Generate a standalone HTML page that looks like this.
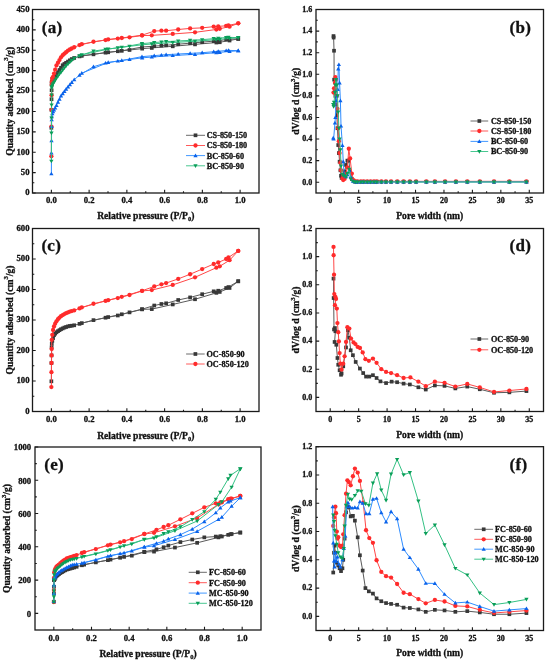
<!DOCTYPE html>
<html><head><meta charset="utf-8"><style>
html,body{margin:0;padding:0;background:#fff;}
svg{display:block;will-change:transform;}
text{font-family:"Liberation Serif", serif;font-weight:bold;fill:#111;stroke:#111;stroke-width:0.3px;}
</style></head><body>
<svg width="550" height="662" viewBox="0 0 550 662">
<rect width="550" height="662" fill="#fff"/>
<path d="M51.38,127.76L51.45,109.81L51.53,99.21L51.60,90.24L51.68,83.72L51.75,81.76L52.32,78.82L53.07,78.05L54.02,77.07L55.15,75.91L56.47,74.46L57.98,72.23L59.49,69.99L61.00,67.75L62.70,65.24L64.40,63.95L66.10,62.82L67.98,61.57L69.87,60.32L71.76,59.06L74.21,57.98L79.50,56.38L93.47,54.33L105.55,52.66L117.81,51.26L129.52,49.99L142.16,48.63L151.79,47.94L172.74,46.31L195.01,44.39L216.34,42.55L219.74,42.25L229.55,40.53L238.24,38.86L238.24,38.86L228.42,39.11L226.16,39.55L218.23,40.75L213.70,41.14L202.19,42.14L190.11,43.18L178.21,44.21L166.13,45.25L161.42,45.62L154.24,46.13L141.97,47.02L121.78,50.83L108.19,52.30L81.76,55.86" fill="none" stroke="#5a5a5a" stroke-width="1.0" stroke-linejoin="round"/>
<rect x="49.53" y="125.91" width="3.69" height="3.69" fill="#383838"/>
<rect x="49.61" y="107.97" width="3.69" height="3.69" fill="#383838"/>
<rect x="49.68" y="97.37" width="3.69" height="3.69" fill="#383838"/>
<rect x="49.76" y="88.39" width="3.69" height="3.69" fill="#383838"/>
<rect x="49.83" y="81.87" width="3.69" height="3.69" fill="#383838"/>
<rect x="49.91" y="79.91" width="3.69" height="3.69" fill="#383838"/>
<rect x="50.47" y="76.98" width="3.69" height="3.69" fill="#383838"/>
<rect x="51.23" y="76.20" width="3.69" height="3.69" fill="#383838"/>
<rect x="52.17" y="75.23" width="3.69" height="3.69" fill="#383838"/>
<rect x="53.30" y="74.06" width="3.69" height="3.69" fill="#383838"/>
<rect x="54.63" y="72.62" width="3.69" height="3.69" fill="#383838"/>
<rect x="56.14" y="70.38" width="3.69" height="3.69" fill="#383838"/>
<rect x="57.65" y="68.15" width="3.69" height="3.69" fill="#383838"/>
<rect x="59.16" y="65.91" width="3.69" height="3.69" fill="#383838"/>
<rect x="60.85" y="63.39" width="3.69" height="3.69" fill="#383838"/>
<rect x="62.55" y="62.11" width="3.69" height="3.69" fill="#383838"/>
<rect x="64.25" y="60.98" width="3.69" height="3.69" fill="#383838"/>
<rect x="66.14" y="59.73" width="3.69" height="3.69" fill="#383838"/>
<rect x="68.03" y="58.47" width="3.69" height="3.69" fill="#383838"/>
<rect x="69.91" y="57.22" width="3.69" height="3.69" fill="#383838"/>
<rect x="72.37" y="56.13" width="3.69" height="3.69" fill="#383838"/>
<rect x="77.65" y="54.54" width="3.69" height="3.69" fill="#383838"/>
<rect x="91.62" y="52.48" width="3.69" height="3.69" fill="#383838"/>
<rect x="103.70" y="50.81" width="3.69" height="3.69" fill="#383838"/>
<rect x="115.97" y="49.41" width="3.69" height="3.69" fill="#383838"/>
<rect x="127.67" y="48.15" width="3.69" height="3.69" fill="#383838"/>
<rect x="140.32" y="46.79" width="3.69" height="3.69" fill="#383838"/>
<rect x="149.94" y="46.09" width="3.69" height="3.69" fill="#383838"/>
<rect x="170.90" y="44.47" width="3.69" height="3.69" fill="#383838"/>
<rect x="193.17" y="42.54" width="3.69" height="3.69" fill="#383838"/>
<rect x="214.50" y="40.70" width="3.69" height="3.69" fill="#383838"/>
<rect x="217.89" y="40.41" width="3.69" height="3.69" fill="#383838"/>
<rect x="227.71" y="38.68" width="3.69" height="3.69" fill="#383838"/>
<rect x="236.39" y="37.02" width="3.69" height="3.69" fill="#383838"/>
<rect x="236.39" y="37.02" width="3.69" height="3.69" fill="#383838"/>
<rect x="226.58" y="37.27" width="3.69" height="3.69" fill="#383838"/>
<rect x="224.31" y="37.70" width="3.69" height="3.69" fill="#383838"/>
<rect x="216.38" y="38.91" width="3.69" height="3.69" fill="#383838"/>
<rect x="211.85" y="39.30" width="3.69" height="3.69" fill="#383838"/>
<rect x="200.34" y="40.29" width="3.69" height="3.69" fill="#383838"/>
<rect x="188.26" y="41.34" width="3.69" height="3.69" fill="#383838"/>
<rect x="176.37" y="42.37" width="3.69" height="3.69" fill="#383838"/>
<rect x="164.29" y="43.41" width="3.69" height="3.69" fill="#383838"/>
<rect x="159.57" y="43.77" width="3.69" height="3.69" fill="#383838"/>
<rect x="152.40" y="44.29" width="3.69" height="3.69" fill="#383838"/>
<rect x="140.13" y="45.17" width="3.69" height="3.69" fill="#383838"/>
<rect x="119.93" y="48.98" width="3.69" height="3.69" fill="#383838"/>
<rect x="106.34" y="50.45" width="3.69" height="3.69" fill="#383838"/>
<rect x="79.92" y="54.02" width="3.69" height="3.69" fill="#383838"/>
<path d="M51.38,156.30L51.45,126.53L51.53,109.81L51.60,95.13L51.68,84.94L51.75,81.88L52.32,78.41L53.07,76.78L54.02,73.55L55.15,69.66L56.47,65.44L57.98,62.74L59.49,60.04L61.00,57.34L62.70,55.17L64.40,53.70L66.10,52.24L67.98,50.60L69.87,49.49L71.76,48.51L74.21,47.27L79.50,45.11L93.47,41.77L105.55,40.03L117.81,38.62L129.52,37.28L142.16,35.59L151.79,35.37L172.74,33.97L195.01,32.34L216.34,29.48L219.74,28.75L229.55,26.63L238.24,23.36L238.24,23.36L228.42,25.35L226.16,25.81L218.23,26.35L213.70,26.67L202.19,27.86L190.11,28.42L178.21,29.48L166.13,30.70L161.42,30.70L154.24,31.11L141.97,35.19L121.78,37.98L108.19,39.45L81.76,44.15" fill="none" stroke="#ff4747" stroke-width="1.0" stroke-linejoin="round"/>
<circle cx="51.38" cy="156.30" r="2.15" fill="#ff2b2b"/>
<circle cx="51.45" cy="126.53" r="2.15" fill="#ff2b2b"/>
<circle cx="51.53" cy="109.81" r="2.15" fill="#ff2b2b"/>
<circle cx="51.60" cy="95.13" r="2.15" fill="#ff2b2b"/>
<circle cx="51.68" cy="84.94" r="2.15" fill="#ff2b2b"/>
<circle cx="51.75" cy="81.88" r="2.15" fill="#ff2b2b"/>
<circle cx="52.32" cy="78.41" r="2.15" fill="#ff2b2b"/>
<circle cx="53.07" cy="76.78" r="2.15" fill="#ff2b2b"/>
<circle cx="54.02" cy="73.55" r="2.15" fill="#ff2b2b"/>
<circle cx="55.15" cy="69.66" r="2.15" fill="#ff2b2b"/>
<circle cx="56.47" cy="65.44" r="2.15" fill="#ff2b2b"/>
<circle cx="57.98" cy="62.74" r="2.15" fill="#ff2b2b"/>
<circle cx="59.49" cy="60.04" r="2.15" fill="#ff2b2b"/>
<circle cx="61.00" cy="57.34" r="2.15" fill="#ff2b2b"/>
<circle cx="62.70" cy="55.17" r="2.15" fill="#ff2b2b"/>
<circle cx="64.40" cy="53.70" r="2.15" fill="#ff2b2b"/>
<circle cx="66.10" cy="52.24" r="2.15" fill="#ff2b2b"/>
<circle cx="67.98" cy="50.60" r="2.15" fill="#ff2b2b"/>
<circle cx="69.87" cy="49.49" r="2.15" fill="#ff2b2b"/>
<circle cx="71.76" cy="48.51" r="2.15" fill="#ff2b2b"/>
<circle cx="74.21" cy="47.27" r="2.15" fill="#ff2b2b"/>
<circle cx="79.50" cy="45.11" r="2.15" fill="#ff2b2b"/>
<circle cx="93.47" cy="41.77" r="2.15" fill="#ff2b2b"/>
<circle cx="105.55" cy="40.03" r="2.15" fill="#ff2b2b"/>
<circle cx="117.81" cy="38.62" r="2.15" fill="#ff2b2b"/>
<circle cx="129.52" cy="37.28" r="2.15" fill="#ff2b2b"/>
<circle cx="142.16" cy="35.59" r="2.15" fill="#ff2b2b"/>
<circle cx="151.79" cy="35.37" r="2.15" fill="#ff2b2b"/>
<circle cx="172.74" cy="33.97" r="2.15" fill="#ff2b2b"/>
<circle cx="195.01" cy="32.34" r="2.15" fill="#ff2b2b"/>
<circle cx="216.34" cy="29.48" r="2.15" fill="#ff2b2b"/>
<circle cx="219.74" cy="28.75" r="2.15" fill="#ff2b2b"/>
<circle cx="229.55" cy="26.63" r="2.15" fill="#ff2b2b"/>
<circle cx="238.24" cy="23.36" r="2.15" fill="#ff2b2b"/>
<circle cx="238.24" cy="23.36" r="2.15" fill="#ff2b2b"/>
<circle cx="228.42" cy="25.35" r="2.15" fill="#ff2b2b"/>
<circle cx="226.16" cy="25.81" r="2.15" fill="#ff2b2b"/>
<circle cx="218.23" cy="26.35" r="2.15" fill="#ff2b2b"/>
<circle cx="213.70" cy="26.67" r="2.15" fill="#ff2b2b"/>
<circle cx="202.19" cy="27.86" r="2.15" fill="#ff2b2b"/>
<circle cx="190.11" cy="28.42" r="2.15" fill="#ff2b2b"/>
<circle cx="178.21" cy="29.48" r="2.15" fill="#ff2b2b"/>
<circle cx="166.13" cy="30.70" r="2.15" fill="#ff2b2b"/>
<circle cx="161.42" cy="30.70" r="2.15" fill="#ff2b2b"/>
<circle cx="154.24" cy="31.11" r="2.15" fill="#ff2b2b"/>
<circle cx="141.97" cy="35.19" r="2.15" fill="#ff2b2b"/>
<circle cx="121.78" cy="37.98" r="2.15" fill="#ff2b2b"/>
<circle cx="108.19" cy="39.45" r="2.15" fill="#ff2b2b"/>
<circle cx="81.76" cy="44.15" r="2.15" fill="#ff2b2b"/>
<path d="M51.38,173.83L51.45,153.04L51.53,140.80L51.60,126.53L51.68,119.80L51.75,116.61L52.32,113.69L53.07,111.59L54.02,109.91L55.15,107.89L56.47,105.37L57.98,102.23L59.49,99.09L61.00,95.95L62.70,93.71L64.40,91.48L66.10,89.25L67.98,86.85L69.87,84.65L71.76,82.46L74.21,79.72L79.50,75.15L93.47,66.71L105.55,63.07L117.81,61.06L129.52,59.46L142.16,57.85L151.79,57.05L172.74,55.55L195.01,54.35L216.34,52.68L219.74,52.37L229.55,51.48L238.24,50.69L238.24,50.69L228.42,50.36L226.16,50.56L218.23,51.28L213.70,51.69L202.19,52.73L190.11,53.39L178.21,54.03L166.13,54.68L161.42,55.03L154.24,55.63L141.97,56.65L121.78,60.51L108.19,62.43L81.76,73.19" fill="none" stroke="#2e8cff" stroke-width="1.0" stroke-linejoin="round"/>
<path d="M51.38,171.68L53.53,175.37L49.22,175.37Z" fill="#0a62ea"/>
<path d="M51.45,150.89L53.60,154.58L49.30,154.58Z" fill="#0a62ea"/>
<path d="M51.53,138.65L53.68,142.34L49.37,142.34Z" fill="#0a62ea"/>
<path d="M51.60,124.38L53.75,128.07L49.45,128.07Z" fill="#0a62ea"/>
<path d="M51.68,117.65L53.83,121.34L49.52,121.34Z" fill="#0a62ea"/>
<path d="M51.75,114.46L53.91,118.15L49.60,118.15Z" fill="#0a62ea"/>
<path d="M52.32,111.53L54.47,115.22L50.17,115.22Z" fill="#0a62ea"/>
<path d="M53.07,109.44L55.23,113.13L50.92,113.13Z" fill="#0a62ea"/>
<path d="M54.02,107.76L56.17,111.45L51.86,111.45Z" fill="#0a62ea"/>
<path d="M55.15,105.74L57.30,109.43L53.00,109.43Z" fill="#0a62ea"/>
<path d="M56.47,103.22L58.62,106.91L54.32,106.91Z" fill="#0a62ea"/>
<path d="M57.98,100.08L60.13,103.77L55.83,103.77Z" fill="#0a62ea"/>
<path d="M59.49,96.94L61.64,100.63L57.34,100.63Z" fill="#0a62ea"/>
<path d="M61.00,93.80L63.15,97.49L58.85,97.49Z" fill="#0a62ea"/>
<path d="M62.70,91.56L64.85,95.25L60.55,95.25Z" fill="#0a62ea"/>
<path d="M64.40,89.33L66.55,93.02L62.25,93.02Z" fill="#0a62ea"/>
<path d="M66.10,87.09L68.25,90.78L63.94,90.78Z" fill="#0a62ea"/>
<path d="M67.98,84.70L70.14,88.39L65.83,88.39Z" fill="#0a62ea"/>
<path d="M69.87,82.50L72.03,86.19L67.72,86.19Z" fill="#0a62ea"/>
<path d="M71.76,80.31L73.91,84.00L69.61,84.00Z" fill="#0a62ea"/>
<path d="M74.21,77.57L76.37,81.26L72.06,81.26Z" fill="#0a62ea"/>
<path d="M79.50,73.00L81.65,76.69L77.35,76.69Z" fill="#0a62ea"/>
<path d="M93.47,64.56L95.62,68.25L91.31,68.25Z" fill="#0a62ea"/>
<path d="M105.55,60.91L107.70,64.60L103.39,64.60Z" fill="#0a62ea"/>
<path d="M117.81,58.90L119.97,62.59L115.66,62.59Z" fill="#0a62ea"/>
<path d="M129.52,57.31L131.67,61.00L127.36,61.00Z" fill="#0a62ea"/>
<path d="M142.16,55.70L144.32,59.39L140.01,59.39Z" fill="#0a62ea"/>
<path d="M151.79,54.90L153.94,58.59L149.64,58.59Z" fill="#0a62ea"/>
<path d="M172.74,53.40L174.89,57.09L170.59,57.09Z" fill="#0a62ea"/>
<path d="M195.01,52.19L197.17,55.88L192.86,55.88Z" fill="#0a62ea"/>
<path d="M216.34,50.52L218.49,54.21L214.19,54.21Z" fill="#0a62ea"/>
<path d="M219.74,50.22L221.89,53.91L217.59,53.91Z" fill="#0a62ea"/>
<path d="M229.55,49.32L231.71,53.01L227.40,53.01Z" fill="#0a62ea"/>
<path d="M238.24,48.53L240.39,52.22L236.08,52.22Z" fill="#0a62ea"/>
<path d="M238.24,48.53L240.39,52.22L236.08,52.22Z" fill="#0a62ea"/>
<path d="M228.42,48.20L230.57,51.89L226.27,51.89Z" fill="#0a62ea"/>
<path d="M226.16,48.41L228.31,52.10L224.00,52.10Z" fill="#0a62ea"/>
<path d="M218.23,49.13L220.38,52.82L216.08,52.82Z" fill="#0a62ea"/>
<path d="M213.70,49.54L215.85,53.23L211.55,53.23Z" fill="#0a62ea"/>
<path d="M202.19,50.58L204.34,54.27L200.03,54.27Z" fill="#0a62ea"/>
<path d="M190.11,51.23L192.26,54.92L187.95,54.92Z" fill="#0a62ea"/>
<path d="M178.21,51.88L180.37,55.57L176.06,55.57Z" fill="#0a62ea"/>
<path d="M166.13,52.53L168.29,56.22L163.98,56.22Z" fill="#0a62ea"/>
<path d="M161.42,52.88L163.57,56.57L159.26,56.57Z" fill="#0a62ea"/>
<path d="M154.24,53.47L156.40,57.16L152.09,57.16Z" fill="#0a62ea"/>
<path d="M141.97,54.49L144.13,58.18L139.82,58.18Z" fill="#0a62ea"/>
<path d="M121.78,58.36L123.93,62.05L119.63,62.05Z" fill="#0a62ea"/>
<path d="M108.19,60.28L110.34,63.97L106.04,63.97Z" fill="#0a62ea"/>
<path d="M81.76,71.04L83.92,74.73L79.61,74.73Z" fill="#0a62ea"/>
<path d="M51.38,161.19L51.45,133.06L51.53,117.97L51.60,104.92L51.68,95.13L51.75,87.79L51.75,86.65L52.32,84.94L53.07,83.73L54.02,82.22L55.15,80.41L56.47,78.29L57.98,76.07L59.49,74.15L61.00,72.24L62.70,70.08L64.40,67.93L66.10,65.77L67.98,63.98L69.87,62.19L71.76,60.40L74.21,58.26L79.50,55.79L93.47,51.07L105.55,49.39L117.81,47.81L129.52,46.32L142.16,44.80L151.79,44.00L172.74,42.50L195.01,41.30L216.34,39.63L219.74,39.32L229.55,38.43L238.24,37.64L238.24,37.64L228.42,37.31L226.16,37.51L218.23,38.23L213.70,38.65L202.19,39.69L190.11,40.34L178.21,40.98L166.13,41.63L161.42,41.98L154.24,42.58L141.97,43.60L121.78,47.30L108.19,49.03L81.76,54.86" fill="none" stroke="#34c184" stroke-width="1.0" stroke-linejoin="round"/>
<path d="M51.38,163.35L53.53,159.66L49.22,159.66Z" fill="#0a9e58"/>
<path d="M51.45,135.21L53.60,131.52L49.30,131.52Z" fill="#0a9e58"/>
<path d="M51.53,120.12L53.68,116.43L49.37,116.43Z" fill="#0a9e58"/>
<path d="M51.60,107.07L53.75,103.38L49.45,103.38Z" fill="#0a9e58"/>
<path d="M51.68,97.29L53.83,93.60L49.52,93.60Z" fill="#0a9e58"/>
<path d="M51.75,89.95L53.91,86.26L49.60,86.26Z" fill="#0a9e58"/>
<path d="M51.75,88.80L53.91,85.11L49.60,85.11Z" fill="#0a9e58"/>
<path d="M52.32,87.09L54.47,83.40L50.17,83.40Z" fill="#0a9e58"/>
<path d="M53.07,85.88L55.23,82.19L50.92,82.19Z" fill="#0a9e58"/>
<path d="M54.02,84.37L56.17,80.68L51.86,80.68Z" fill="#0a9e58"/>
<path d="M55.15,82.56L57.30,78.87L53.00,78.87Z" fill="#0a9e58"/>
<path d="M56.47,80.45L58.62,76.76L54.32,76.76Z" fill="#0a9e58"/>
<path d="M57.98,78.22L60.13,74.53L55.83,74.53Z" fill="#0a9e58"/>
<path d="M59.49,76.30L61.64,72.61L57.34,72.61Z" fill="#0a9e58"/>
<path d="M61.00,74.39L63.15,70.70L58.85,70.70Z" fill="#0a9e58"/>
<path d="M62.70,72.23L64.85,68.54L60.55,68.54Z" fill="#0a9e58"/>
<path d="M64.40,70.08L66.55,66.39L62.25,66.39Z" fill="#0a9e58"/>
<path d="M66.10,67.93L68.25,64.24L63.94,64.24Z" fill="#0a9e58"/>
<path d="M67.98,66.14L70.14,62.45L65.83,62.45Z" fill="#0a9e58"/>
<path d="M69.87,64.35L72.03,60.66L67.72,60.66Z" fill="#0a9e58"/>
<path d="M71.76,62.56L73.91,58.87L69.61,58.87Z" fill="#0a9e58"/>
<path d="M74.21,60.41L76.37,56.72L72.06,56.72Z" fill="#0a9e58"/>
<path d="M79.50,57.94L81.65,54.25L77.35,54.25Z" fill="#0a9e58"/>
<path d="M93.47,53.22L95.62,49.53L91.31,49.53Z" fill="#0a9e58"/>
<path d="M105.55,51.55L107.70,47.86L103.39,47.86Z" fill="#0a9e58"/>
<path d="M117.81,49.96L119.97,46.27L115.66,46.27Z" fill="#0a9e58"/>
<path d="M129.52,48.47L131.67,44.78L127.36,44.78Z" fill="#0a9e58"/>
<path d="M142.16,46.96L144.32,43.27L140.01,43.27Z" fill="#0a9e58"/>
<path d="M151.79,46.16L153.94,42.47L149.64,42.47Z" fill="#0a9e58"/>
<path d="M172.74,44.65L174.89,40.96L170.59,40.96Z" fill="#0a9e58"/>
<path d="M195.01,43.45L197.17,39.76L192.86,39.76Z" fill="#0a9e58"/>
<path d="M216.34,41.78L218.49,38.09L214.19,38.09Z" fill="#0a9e58"/>
<path d="M219.74,41.47L221.89,37.78L217.59,37.78Z" fill="#0a9e58"/>
<path d="M229.55,40.58L231.71,36.89L227.40,36.89Z" fill="#0a9e58"/>
<path d="M238.24,39.79L240.39,36.10L236.08,36.10Z" fill="#0a9e58"/>
<path d="M238.24,39.79L240.39,36.10L236.08,36.10Z" fill="#0a9e58"/>
<path d="M228.42,39.46L230.57,35.77L226.27,35.77Z" fill="#0a9e58"/>
<path d="M226.16,39.66L228.31,35.97L224.00,35.97Z" fill="#0a9e58"/>
<path d="M218.23,40.39L220.38,36.70L216.08,36.70Z" fill="#0a9e58"/>
<path d="M213.70,40.80L215.85,37.11L211.55,37.11Z" fill="#0a9e58"/>
<path d="M202.19,41.84L204.34,38.15L200.03,38.15Z" fill="#0a9e58"/>
<path d="M190.11,42.49L192.26,38.80L187.95,38.80Z" fill="#0a9e58"/>
<path d="M178.21,43.13L180.37,39.44L176.06,39.44Z" fill="#0a9e58"/>
<path d="M166.13,43.79L168.29,40.10L163.98,40.10Z" fill="#0a9e58"/>
<path d="M161.42,44.13L163.57,40.44L159.26,40.44Z" fill="#0a9e58"/>
<path d="M154.24,44.73L156.40,41.04L152.09,41.04Z" fill="#0a9e58"/>
<path d="M141.97,45.75L144.13,42.06L139.82,42.06Z" fill="#0a9e58"/>
<path d="M121.78,49.46L123.93,45.77L119.63,45.77Z" fill="#0a9e58"/>
<path d="M108.19,51.18L110.34,47.49L106.04,47.49Z" fill="#0a9e58"/>
<path d="M81.76,57.01L83.92,53.32L79.61,53.32Z" fill="#0a9e58"/>
<rect x="32.50" y="9.50" width="226.50" height="183.50" fill="none" stroke="#1a1a1a" stroke-width="1.3"/>
<path d="M51.38,193.00v-3.2M89.12,193.00v-3.2M126.87,193.00v-3.2M164.62,193.00v-3.2M202.37,193.00v-3.2M240.12,193.00v-3.2M70.25,193.00v-1.8M108.00,193.00v-1.8M145.75,193.00v-1.8M183.50,193.00v-1.8M221.25,193.00v-1.8M32.50,193.00h3.2M32.50,172.61h3.2M32.50,152.22h3.2M32.50,131.83h3.2M32.50,111.44h3.2M32.50,91.06h3.2M32.50,70.67h3.2M32.50,50.28h3.2M32.50,29.89h3.2M32.50,9.50h3.2M32.50,182.81h1.8M32.50,162.42h1.8M32.50,142.03h1.8M32.50,121.64h1.8M32.50,101.25h1.8M32.50,80.86h1.8M32.50,60.47h1.8M32.50,40.08h1.8M32.50,19.69h1.8" stroke="#1a1a1a" stroke-width="1.1" fill="none"/>
<text x="51.38" y="202.90" font-size="8.7" text-anchor="middle">0.0</text>
<text x="89.12" y="202.90" font-size="8.7" text-anchor="middle">0.2</text>
<text x="126.87" y="202.90" font-size="8.7" text-anchor="middle">0.4</text>
<text x="164.62" y="202.90" font-size="8.7" text-anchor="middle">0.6</text>
<text x="202.37" y="202.90" font-size="8.7" text-anchor="middle">0.8</text>
<text x="240.12" y="202.90" font-size="8.7" text-anchor="middle">1.0</text>
<text x="29.50" y="195.40" font-size="8.7" text-anchor="end">0</text>
<text x="29.50" y="175.01" font-size="8.7" text-anchor="end">50</text>
<text x="29.50" y="154.62" font-size="8.7" text-anchor="end">100</text>
<text x="29.50" y="134.23" font-size="8.7" text-anchor="end">150</text>
<text x="29.50" y="113.84" font-size="8.7" text-anchor="end">200</text>
<text x="29.50" y="93.46" font-size="8.7" text-anchor="end">250</text>
<text x="29.50" y="73.07" font-size="8.7" text-anchor="end">300</text>
<text x="29.50" y="52.68" font-size="8.7" text-anchor="end">350</text>
<text x="29.50" y="32.29" font-size="8.7" text-anchor="end">400</text>
<text x="29.50" y="11.90" font-size="8.7" text-anchor="end">450</text>
<text x="145.75" y="219.00" font-size="9.6" text-anchor="middle">Relative pressure (P/P<tspan font-size="6.5" dy="2">0</tspan><tspan dy="-2">)</tspan></text>
<text transform="translate(12.50,101.25) rotate(-90)" font-size="9.6" text-anchor="middle">Quantity adsorbed (cm<tspan font-size="6.8" dy="-4.5">3</tspan><tspan dy="4.5">/g)</tspan></text>
<text x="41.70" y="32.60" font-size="17" letter-spacing="0.3">(a)</text>
<path d="M186.00,135.30H205.00" stroke="#5a5a5a" stroke-width="0.9"/>
<rect x="193.66" y="133.46" width="3.69" height="3.69" fill="#383838"/>
<text x="206.70" y="138.20" font-size="8.2">CS-850-150</text>
<path d="M186.00,145.50H205.00" stroke="#ff4747" stroke-width="0.9"/>
<circle cx="195.50" cy="145.50" r="2.15" fill="#ff2b2b"/>
<text x="206.70" y="148.40" font-size="8.2">CS-850-180</text>
<path d="M186.00,155.60H205.00" stroke="#2e8cff" stroke-width="0.9"/>
<path d="M195.50,153.45L197.65,157.14L193.35,157.14Z" fill="#0a62ea"/>
<text x="206.70" y="158.50" font-size="8.2">BC-850-60</text>
<path d="M186.00,165.80H205.00" stroke="#34c184" stroke-width="0.9"/>
<path d="M195.50,167.95L197.65,164.26L193.35,164.26Z" fill="#0a9e58"/>
<text x="206.70" y="168.70" font-size="8.2">BC-850-90</text>
<path d="M51.38,381.31L51.45,363.00L51.53,355.38L51.60,347.45L51.75,343.89L52.32,340.84L53.07,338.10L54.02,335.22L55.15,333.66L56.47,332.29L57.98,331.15L59.49,330.17L61.00,329.21L62.70,328.40L64.40,327.59L66.10,327.00L67.98,326.38L69.87,325.99L71.76,325.71L74.21,325.30L79.50,323.86L93.47,320.14L105.55,317.70L117.81,315.49L129.52,312.38L142.16,309.32L151.79,309.12L172.74,304.44L195.01,299.26L216.34,292.86L219.74,291.94L229.55,287.98L238.24,281.26L238.24,281.26L228.42,287.06L226.16,287.98L218.23,290.72L213.70,291.33L202.19,294.20L190.11,297.43L178.21,299.99L166.13,303.32L161.42,303.99L154.24,305.51L141.97,309.22L121.78,314.28L108.19,317.06L81.76,323.10" fill="none" stroke="#5a5a5a" stroke-width="1.0" stroke-linejoin="round"/>
<rect x="49.53" y="379.46" width="3.69" height="3.69" fill="#383838"/>
<rect x="49.61" y="361.16" width="3.69" height="3.69" fill="#383838"/>
<rect x="49.68" y="353.53" width="3.69" height="3.69" fill="#383838"/>
<rect x="49.76" y="345.60" width="3.69" height="3.69" fill="#383838"/>
<rect x="49.91" y="342.05" width="3.69" height="3.69" fill="#383838"/>
<rect x="50.47" y="339.00" width="3.69" height="3.69" fill="#383838"/>
<rect x="51.23" y="336.25" width="3.69" height="3.69" fill="#383838"/>
<rect x="52.17" y="333.37" width="3.69" height="3.69" fill="#383838"/>
<rect x="53.30" y="331.81" width="3.69" height="3.69" fill="#383838"/>
<rect x="54.63" y="330.44" width="3.69" height="3.69" fill="#383838"/>
<rect x="56.14" y="329.31" width="3.69" height="3.69" fill="#383838"/>
<rect x="57.65" y="328.32" width="3.69" height="3.69" fill="#383838"/>
<rect x="59.16" y="327.37" width="3.69" height="3.69" fill="#383838"/>
<rect x="60.85" y="326.56" width="3.69" height="3.69" fill="#383838"/>
<rect x="62.55" y="325.75" width="3.69" height="3.69" fill="#383838"/>
<rect x="64.25" y="325.16" width="3.69" height="3.69" fill="#383838"/>
<rect x="66.14" y="324.53" width="3.69" height="3.69" fill="#383838"/>
<rect x="68.03" y="324.15" width="3.69" height="3.69" fill="#383838"/>
<rect x="69.91" y="323.87" width="3.69" height="3.69" fill="#383838"/>
<rect x="72.37" y="323.45" width="3.69" height="3.69" fill="#383838"/>
<rect x="77.65" y="322.02" width="3.69" height="3.69" fill="#383838"/>
<rect x="91.62" y="318.29" width="3.69" height="3.69" fill="#383838"/>
<rect x="103.70" y="315.86" width="3.69" height="3.69" fill="#383838"/>
<rect x="115.97" y="313.64" width="3.69" height="3.69" fill="#383838"/>
<rect x="127.67" y="310.53" width="3.69" height="3.69" fill="#383838"/>
<rect x="140.32" y="307.48" width="3.69" height="3.69" fill="#383838"/>
<rect x="149.94" y="307.27" width="3.69" height="3.69" fill="#383838"/>
<rect x="170.90" y="302.60" width="3.69" height="3.69" fill="#383838"/>
<rect x="193.17" y="297.41" width="3.69" height="3.69" fill="#383838"/>
<rect x="214.50" y="291.01" width="3.69" height="3.69" fill="#383838"/>
<rect x="217.89" y="290.09" width="3.69" height="3.69" fill="#383838"/>
<rect x="227.71" y="286.13" width="3.69" height="3.69" fill="#383838"/>
<rect x="236.39" y="279.42" width="3.69" height="3.69" fill="#383838"/>
<rect x="236.39" y="279.42" width="3.69" height="3.69" fill="#383838"/>
<rect x="226.58" y="285.21" width="3.69" height="3.69" fill="#383838"/>
<rect x="224.31" y="286.13" width="3.69" height="3.69" fill="#383838"/>
<rect x="216.38" y="288.88" width="3.69" height="3.69" fill="#383838"/>
<rect x="211.85" y="289.49" width="3.69" height="3.69" fill="#383838"/>
<rect x="200.34" y="292.35" width="3.69" height="3.69" fill="#383838"/>
<rect x="188.26" y="295.58" width="3.69" height="3.69" fill="#383838"/>
<rect x="176.37" y="298.15" width="3.69" height="3.69" fill="#383838"/>
<rect x="164.29" y="301.47" width="3.69" height="3.69" fill="#383838"/>
<rect x="159.57" y="302.14" width="3.69" height="3.69" fill="#383838"/>
<rect x="152.40" y="303.67" width="3.69" height="3.69" fill="#383838"/>
<rect x="140.13" y="307.37" width="3.69" height="3.69" fill="#383838"/>
<rect x="119.93" y="312.43" width="3.69" height="3.69" fill="#383838"/>
<rect x="106.34" y="315.22" width="3.69" height="3.69" fill="#383838"/>
<rect x="79.92" y="321.26" width="3.69" height="3.69" fill="#383838"/>
<path d="M51.38,387.10L51.45,372.15L51.53,363.00L51.60,355.38L51.68,348.98L51.75,339.82L52.32,334.79L53.07,330.00L54.02,326.52L55.15,323.69L56.47,321.37L57.98,319.18L59.49,317.62L61.00,316.21L62.70,315.03L64.40,314.04L66.10,313.21L67.98,312.41L69.87,311.61L71.76,311.10L74.21,310.40L79.50,308.39L93.47,303.75L105.55,300.92L117.81,298.04L129.52,294.99L142.16,290.90L151.79,290.11L172.74,284.93L195.01,277.30L216.34,267.69L219.74,266.32L229.55,260.22L238.24,250.89L238.24,250.89L228.42,257.48L226.16,259.00L218.23,262.51L213.70,264.00L202.19,269.06L190.11,274.25L178.21,278.89L166.13,283.10L161.42,284.31L154.24,286.45L141.97,290.81L121.78,296.85L108.19,300.15L81.76,307.45" fill="none" stroke="#ff4747" stroke-width="1.0" stroke-linejoin="round"/>
<circle cx="51.38" cy="387.10" r="2.15" fill="#ff2b2b"/>
<circle cx="51.45" cy="372.15" r="2.15" fill="#ff2b2b"/>
<circle cx="51.53" cy="363.00" r="2.15" fill="#ff2b2b"/>
<circle cx="51.60" cy="355.38" r="2.15" fill="#ff2b2b"/>
<circle cx="51.68" cy="348.98" r="2.15" fill="#ff2b2b"/>
<circle cx="51.75" cy="339.82" r="2.15" fill="#ff2b2b"/>
<circle cx="52.32" cy="334.79" r="2.15" fill="#ff2b2b"/>
<circle cx="53.07" cy="330.00" r="2.15" fill="#ff2b2b"/>
<circle cx="54.02" cy="326.52" r="2.15" fill="#ff2b2b"/>
<circle cx="55.15" cy="323.69" r="2.15" fill="#ff2b2b"/>
<circle cx="56.47" cy="321.37" r="2.15" fill="#ff2b2b"/>
<circle cx="57.98" cy="319.18" r="2.15" fill="#ff2b2b"/>
<circle cx="59.49" cy="317.62" r="2.15" fill="#ff2b2b"/>
<circle cx="61.00" cy="316.21" r="2.15" fill="#ff2b2b"/>
<circle cx="62.70" cy="315.03" r="2.15" fill="#ff2b2b"/>
<circle cx="64.40" cy="314.04" r="2.15" fill="#ff2b2b"/>
<circle cx="66.10" cy="313.21" r="2.15" fill="#ff2b2b"/>
<circle cx="67.98" cy="312.41" r="2.15" fill="#ff2b2b"/>
<circle cx="69.87" cy="311.61" r="2.15" fill="#ff2b2b"/>
<circle cx="71.76" cy="311.10" r="2.15" fill="#ff2b2b"/>
<circle cx="74.21" cy="310.40" r="2.15" fill="#ff2b2b"/>
<circle cx="79.50" cy="308.39" r="2.15" fill="#ff2b2b"/>
<circle cx="93.47" cy="303.75" r="2.15" fill="#ff2b2b"/>
<circle cx="105.55" cy="300.92" r="2.15" fill="#ff2b2b"/>
<circle cx="117.81" cy="298.04" r="2.15" fill="#ff2b2b"/>
<circle cx="129.52" cy="294.99" r="2.15" fill="#ff2b2b"/>
<circle cx="142.16" cy="290.90" r="2.15" fill="#ff2b2b"/>
<circle cx="151.79" cy="290.11" r="2.15" fill="#ff2b2b"/>
<circle cx="172.74" cy="284.93" r="2.15" fill="#ff2b2b"/>
<circle cx="195.01" cy="277.30" r="2.15" fill="#ff2b2b"/>
<circle cx="216.34" cy="267.69" r="2.15" fill="#ff2b2b"/>
<circle cx="219.74" cy="266.32" r="2.15" fill="#ff2b2b"/>
<circle cx="229.55" cy="260.22" r="2.15" fill="#ff2b2b"/>
<circle cx="238.24" cy="250.89" r="2.15" fill="#ff2b2b"/>
<circle cx="238.24" cy="250.89" r="2.15" fill="#ff2b2b"/>
<circle cx="228.42" cy="257.48" r="2.15" fill="#ff2b2b"/>
<circle cx="226.16" cy="259.00" r="2.15" fill="#ff2b2b"/>
<circle cx="218.23" cy="262.51" r="2.15" fill="#ff2b2b"/>
<circle cx="213.70" cy="264.00" r="2.15" fill="#ff2b2b"/>
<circle cx="202.19" cy="269.06" r="2.15" fill="#ff2b2b"/>
<circle cx="190.11" cy="274.25" r="2.15" fill="#ff2b2b"/>
<circle cx="178.21" cy="278.89" r="2.15" fill="#ff2b2b"/>
<circle cx="166.13" cy="283.10" r="2.15" fill="#ff2b2b"/>
<circle cx="161.42" cy="284.31" r="2.15" fill="#ff2b2b"/>
<circle cx="154.24" cy="286.45" r="2.15" fill="#ff2b2b"/>
<circle cx="141.97" cy="290.81" r="2.15" fill="#ff2b2b"/>
<circle cx="121.78" cy="296.85" r="2.15" fill="#ff2b2b"/>
<circle cx="108.19" cy="300.15" r="2.15" fill="#ff2b2b"/>
<circle cx="81.76" cy="307.45" r="2.15" fill="#ff2b2b"/>
<rect x="32.50" y="228.50" width="226.50" height="183.00" fill="none" stroke="#1a1a1a" stroke-width="1.3"/>
<path d="M51.38,411.50v-3.2M89.12,411.50v-3.2M126.87,411.50v-3.2M164.62,411.50v-3.2M202.37,411.50v-3.2M240.12,411.50v-3.2M70.25,411.50v-1.8M108.00,411.50v-1.8M145.75,411.50v-1.8M183.50,411.50v-1.8M221.25,411.50v-1.8M32.50,411.50h3.2M32.50,381.00h3.2M32.50,350.50h3.2M32.50,320.00h3.2M32.50,289.50h3.2M32.50,259.00h3.2M32.50,228.50h3.2M32.50,396.25h1.8M32.50,365.75h1.8M32.50,335.25h1.8M32.50,304.75h1.8M32.50,274.25h1.8M32.50,243.75h1.8" stroke="#1a1a1a" stroke-width="1.1" fill="none"/>
<text x="51.38" y="421.75" font-size="8.7" text-anchor="middle">0.0</text>
<text x="89.12" y="421.75" font-size="8.7" text-anchor="middle">0.2</text>
<text x="126.87" y="421.75" font-size="8.7" text-anchor="middle">0.4</text>
<text x="164.62" y="421.75" font-size="8.7" text-anchor="middle">0.6</text>
<text x="202.37" y="421.75" font-size="8.7" text-anchor="middle">0.8</text>
<text x="240.12" y="421.75" font-size="8.7" text-anchor="middle">1.0</text>
<text x="29.50" y="413.90" font-size="8.7" text-anchor="end">0</text>
<text x="29.50" y="383.40" font-size="8.7" text-anchor="end">100</text>
<text x="29.50" y="352.90" font-size="8.7" text-anchor="end">200</text>
<text x="29.50" y="322.40" font-size="8.7" text-anchor="end">300</text>
<text x="29.50" y="291.90" font-size="8.7" text-anchor="end">400</text>
<text x="29.50" y="261.40" font-size="8.7" text-anchor="end">500</text>
<text x="29.50" y="230.90" font-size="8.7" text-anchor="end">600</text>
<text x="145.75" y="438.50" font-size="9.6" text-anchor="middle">Relative pressure (P/P<tspan font-size="6.5" dy="2">0</tspan><tspan dy="-2">)</tspan></text>
<text transform="translate(12.50,320.00) rotate(-90)" font-size="9.6" text-anchor="middle">Quantity adsorbed (cm<tspan font-size="6.8" dy="-4.5">3</tspan><tspan dy="4.5">/g)</tspan></text>
<text x="41.40" y="251.30" font-size="17" letter-spacing="0.3">(c)</text>
<path d="M186.10,354.00H204.70" stroke="#5a5a5a" stroke-width="0.9"/>
<rect x="193.55" y="352.15" width="3.69" height="3.69" fill="#383838"/>
<text x="206.50" y="356.90" font-size="8.2">OC-850-90</text>
<path d="M186.10,364.00H204.70" stroke="#ff4747" stroke-width="0.9"/>
<circle cx="195.40" cy="364.00" r="2.15" fill="#ff2b2b"/>
<text x="206.50" y="366.90" font-size="8.2">OC-850-120</text>
<path d="M53.83,601.72L53.91,593.40L53.98,586.75L54.06,580.09L54.21,580.17L54.77,579.05L55.53,577.55L56.47,576.13L57.60,575.23L58.92,574.17L60.42,573.05L61.93,572.18L63.44,571.30L65.13,570.32L66.83,569.56L68.52,569.08L70.41,568.55L72.29,568.02L74.17,567.48L76.62,566.79L81.89,565.28L95.83,562.39L107.88,560.17L120.13,557.75L131.80,555.67L144.42,552.14L154.03,551.61L174.93,547.57L197.15,542.83L218.44,537.38L221.83,536.50L231.62,534.01L240.28,532.54L240.28,532.54L230.49,534.25L228.23,534.84L220.32,536.21L215.80,536.56L204.31,537.37L192.26,539.54L180.39,542.06L168.34,545.57L163.63,547.26L156.47,549.31L144.23,551.81L124.08,556.88L110.52,559.58L84.16,564.64" fill="none" stroke="#5a5a5a" stroke-width="1.0" stroke-linejoin="round"/>
<rect x="51.99" y="599.87" width="3.69" height="3.69" fill="#383838"/>
<rect x="52.06" y="591.55" width="3.69" height="3.69" fill="#383838"/>
<rect x="52.14" y="584.90" width="3.69" height="3.69" fill="#383838"/>
<rect x="52.21" y="578.25" width="3.69" height="3.69" fill="#383838"/>
<rect x="52.36" y="578.33" width="3.69" height="3.69" fill="#383838"/>
<rect x="52.93" y="577.21" width="3.69" height="3.69" fill="#383838"/>
<rect x="53.68" y="575.71" width="3.69" height="3.69" fill="#383838"/>
<rect x="54.62" y="574.28" width="3.69" height="3.69" fill="#383838"/>
<rect x="55.75" y="573.38" width="3.69" height="3.69" fill="#383838"/>
<rect x="57.07" y="572.33" width="3.69" height="3.69" fill="#383838"/>
<rect x="58.58" y="571.21" width="3.69" height="3.69" fill="#383838"/>
<rect x="60.09" y="570.33" width="3.69" height="3.69" fill="#383838"/>
<rect x="61.59" y="569.46" width="3.69" height="3.69" fill="#383838"/>
<rect x="63.29" y="568.48" width="3.69" height="3.69" fill="#383838"/>
<rect x="64.98" y="567.72" width="3.69" height="3.69" fill="#383838"/>
<rect x="66.68" y="567.24" width="3.69" height="3.69" fill="#383838"/>
<rect x="68.56" y="566.70" width="3.69" height="3.69" fill="#383838"/>
<rect x="70.44" y="566.17" width="3.69" height="3.69" fill="#383838"/>
<rect x="72.33" y="565.64" width="3.69" height="3.69" fill="#383838"/>
<rect x="74.78" y="564.94" width="3.69" height="3.69" fill="#383838"/>
<rect x="80.05" y="563.43" width="3.69" height="3.69" fill="#383838"/>
<rect x="93.99" y="560.55" width="3.69" height="3.69" fill="#383838"/>
<rect x="106.04" y="558.32" width="3.69" height="3.69" fill="#383838"/>
<rect x="118.28" y="555.91" width="3.69" height="3.69" fill="#383838"/>
<rect x="129.96" y="553.82" width="3.69" height="3.69" fill="#383838"/>
<rect x="142.58" y="550.30" width="3.69" height="3.69" fill="#383838"/>
<rect x="152.18" y="549.77" width="3.69" height="3.69" fill="#383838"/>
<rect x="173.09" y="545.72" width="3.69" height="3.69" fill="#383838"/>
<rect x="195.31" y="540.98" width="3.69" height="3.69" fill="#383838"/>
<rect x="216.59" y="535.54" width="3.69" height="3.69" fill="#383838"/>
<rect x="219.98" y="534.66" width="3.69" height="3.69" fill="#383838"/>
<rect x="229.77" y="532.16" width="3.69" height="3.69" fill="#383838"/>
<rect x="238.44" y="530.70" width="3.69" height="3.69" fill="#383838"/>
<rect x="238.44" y="530.70" width="3.69" height="3.69" fill="#383838"/>
<rect x="228.64" y="532.41" width="3.69" height="3.69" fill="#383838"/>
<rect x="226.38" y="533.00" width="3.69" height="3.69" fill="#383838"/>
<rect x="218.47" y="534.37" width="3.69" height="3.69" fill="#383838"/>
<rect x="213.95" y="534.71" width="3.69" height="3.69" fill="#383838"/>
<rect x="202.47" y="535.52" width="3.69" height="3.69" fill="#383838"/>
<rect x="190.41" y="537.69" width="3.69" height="3.69" fill="#383838"/>
<rect x="178.55" y="540.22" width="3.69" height="3.69" fill="#383838"/>
<rect x="166.49" y="543.73" width="3.69" height="3.69" fill="#383838"/>
<rect x="161.79" y="545.41" width="3.69" height="3.69" fill="#383838"/>
<rect x="154.63" y="547.47" width="3.69" height="3.69" fill="#383838"/>
<rect x="142.39" y="549.96" width="3.69" height="3.69" fill="#383838"/>
<rect x="122.24" y="555.04" width="3.69" height="3.69" fill="#383838"/>
<rect x="108.68" y="557.73" width="3.69" height="3.69" fill="#383838"/>
<rect x="82.31" y="562.80" width="3.69" height="3.69" fill="#383838"/>
<path d="M53.83,602.05L53.91,590.07L53.98,577.93L54.21,572.33L54.77,570.05L55.53,568.28L56.47,566.63L57.60,565.66L58.92,564.53L60.42,563.23L61.93,561.93L63.44,560.71L65.13,559.60L66.83,558.49L68.52,557.85L70.41,557.21L72.29,556.57L74.17,555.93L76.62,555.10L81.89,553.01L95.83,549.03L107.88,545.34L120.13,542.33L131.80,539.05L144.42,533.97L154.03,532.83L174.93,526.36L197.15,518.04L218.44,504.40L221.83,502.40L231.62,498.57L240.28,495.97L240.28,495.96L230.49,498.69L228.23,499.24L220.32,502.49L215.80,503.32L204.31,507.32L192.26,513.36L180.39,519.37L168.34,525.26L163.63,527.00L156.47,529.85L144.23,534.01L124.08,541.13L110.52,544.54L84.16,552.16" fill="none" stroke="#ff4747" stroke-width="1.0" stroke-linejoin="round"/>
<circle cx="53.83" cy="602.05" r="2.15" fill="#ff2b2b"/>
<circle cx="53.91" cy="590.07" r="2.15" fill="#ff2b2b"/>
<circle cx="53.98" cy="577.93" r="2.15" fill="#ff2b2b"/>
<circle cx="54.21" cy="572.33" r="2.15" fill="#ff2b2b"/>
<circle cx="54.77" cy="570.05" r="2.15" fill="#ff2b2b"/>
<circle cx="55.53" cy="568.28" r="2.15" fill="#ff2b2b"/>
<circle cx="56.47" cy="566.63" r="2.15" fill="#ff2b2b"/>
<circle cx="57.60" cy="565.66" r="2.15" fill="#ff2b2b"/>
<circle cx="58.92" cy="564.53" r="2.15" fill="#ff2b2b"/>
<circle cx="60.42" cy="563.23" r="2.15" fill="#ff2b2b"/>
<circle cx="61.93" cy="561.93" r="2.15" fill="#ff2b2b"/>
<circle cx="63.44" cy="560.71" r="2.15" fill="#ff2b2b"/>
<circle cx="65.13" cy="559.60" r="2.15" fill="#ff2b2b"/>
<circle cx="66.83" cy="558.49" r="2.15" fill="#ff2b2b"/>
<circle cx="68.52" cy="557.85" r="2.15" fill="#ff2b2b"/>
<circle cx="70.41" cy="557.21" r="2.15" fill="#ff2b2b"/>
<circle cx="72.29" cy="556.57" r="2.15" fill="#ff2b2b"/>
<circle cx="74.17" cy="555.93" r="2.15" fill="#ff2b2b"/>
<circle cx="76.62" cy="555.10" r="2.15" fill="#ff2b2b"/>
<circle cx="81.89" cy="553.01" r="2.15" fill="#ff2b2b"/>
<circle cx="95.83" cy="549.03" r="2.15" fill="#ff2b2b"/>
<circle cx="107.88" cy="545.34" r="2.15" fill="#ff2b2b"/>
<circle cx="120.13" cy="542.33" r="2.15" fill="#ff2b2b"/>
<circle cx="131.80" cy="539.05" r="2.15" fill="#ff2b2b"/>
<circle cx="144.42" cy="533.97" r="2.15" fill="#ff2b2b"/>
<circle cx="154.03" cy="532.83" r="2.15" fill="#ff2b2b"/>
<circle cx="174.93" cy="526.36" r="2.15" fill="#ff2b2b"/>
<circle cx="197.15" cy="518.04" r="2.15" fill="#ff2b2b"/>
<circle cx="218.44" cy="504.40" r="2.15" fill="#ff2b2b"/>
<circle cx="221.83" cy="502.40" r="2.15" fill="#ff2b2b"/>
<circle cx="231.62" cy="498.57" r="2.15" fill="#ff2b2b"/>
<circle cx="240.28" cy="495.97" r="2.15" fill="#ff2b2b"/>
<circle cx="240.28" cy="495.96" r="2.15" fill="#ff2b2b"/>
<circle cx="230.49" cy="498.69" r="2.15" fill="#ff2b2b"/>
<circle cx="228.23" cy="499.24" r="2.15" fill="#ff2b2b"/>
<circle cx="220.32" cy="502.49" r="2.15" fill="#ff2b2b"/>
<circle cx="215.80" cy="503.32" r="2.15" fill="#ff2b2b"/>
<circle cx="204.31" cy="507.32" r="2.15" fill="#ff2b2b"/>
<circle cx="192.26" cy="513.36" r="2.15" fill="#ff2b2b"/>
<circle cx="180.39" cy="519.37" r="2.15" fill="#ff2b2b"/>
<circle cx="168.34" cy="525.26" r="2.15" fill="#ff2b2b"/>
<circle cx="163.63" cy="527.00" r="2.15" fill="#ff2b2b"/>
<circle cx="156.47" cy="529.85" r="2.15" fill="#ff2b2b"/>
<circle cx="144.23" cy="534.01" r="2.15" fill="#ff2b2b"/>
<circle cx="124.08" cy="541.13" r="2.15" fill="#ff2b2b"/>
<circle cx="110.52" cy="544.54" r="2.15" fill="#ff2b2b"/>
<circle cx="84.16" cy="552.16" r="2.15" fill="#ff2b2b"/>
<path d="M53.83,601.39L53.91,593.40L53.98,585.08L54.06,578.43L54.21,578.57L54.77,577.53L55.53,576.14L56.47,574.74L57.60,573.64L58.92,572.37L60.42,571.06L61.93,570.18L63.44,569.31L65.13,568.33L66.83,567.43L68.52,566.63L70.41,565.75L72.29,564.92L74.17,564.57L76.62,564.13L81.89,563.16L95.83,560.00L107.88,556.32L120.13,553.76L131.80,551.02L144.42,547.10L154.03,545.82L174.93,539.50L197.15,531.35L218.44,519.47L221.83,517.21L231.62,506.23L240.28,497.76L240.28,497.64L230.49,501.08L228.23,501.90L220.32,507.87L215.80,512.80L204.31,521.65L192.26,529.11L180.39,534.67L168.34,539.00L163.63,541.11L156.47,543.32L144.23,546.82L124.08,552.89L110.52,555.59L84.16,562.61" fill="none" stroke="#2e8cff" stroke-width="1.0" stroke-linejoin="round"/>
<path d="M53.83,599.23L55.99,602.92L51.68,602.92Z" fill="#0a62ea"/>
<path d="M53.91,591.25L56.06,594.94L51.76,594.94Z" fill="#0a62ea"/>
<path d="M53.98,582.93L56.14,586.62L51.83,586.62Z" fill="#0a62ea"/>
<path d="M54.06,576.27L56.21,579.96L51.91,579.96Z" fill="#0a62ea"/>
<path d="M54.21,576.41L56.36,580.10L52.06,580.10Z" fill="#0a62ea"/>
<path d="M54.77,575.37L56.93,579.06L52.62,579.06Z" fill="#0a62ea"/>
<path d="M55.53,573.99L57.68,577.68L53.38,577.68Z" fill="#0a62ea"/>
<path d="M56.47,572.58L58.62,576.27L54.32,576.27Z" fill="#0a62ea"/>
<path d="M57.60,571.49L59.75,575.18L55.45,575.18Z" fill="#0a62ea"/>
<path d="M58.92,570.21L61.07,573.90L56.77,573.90Z" fill="#0a62ea"/>
<path d="M60.42,568.90L62.58,572.59L58.27,572.59Z" fill="#0a62ea"/>
<path d="M61.93,568.03L64.08,571.72L59.78,571.72Z" fill="#0a62ea"/>
<path d="M63.44,567.16L65.59,570.85L61.29,570.85Z" fill="#0a62ea"/>
<path d="M65.13,566.17L67.29,569.86L62.98,569.86Z" fill="#0a62ea"/>
<path d="M66.83,565.27L68.98,568.96L64.68,568.96Z" fill="#0a62ea"/>
<path d="M68.52,564.48L70.68,568.17L66.37,568.17Z" fill="#0a62ea"/>
<path d="M70.41,563.59L72.56,567.28L68.25,567.28Z" fill="#0a62ea"/>
<path d="M72.29,562.76L74.44,566.45L70.14,566.45Z" fill="#0a62ea"/>
<path d="M74.17,562.42L76.33,566.11L72.02,566.11Z" fill="#0a62ea"/>
<path d="M76.62,561.97L78.77,565.66L74.47,565.66Z" fill="#0a62ea"/>
<path d="M81.89,561.01L84.05,564.70L79.74,564.70Z" fill="#0a62ea"/>
<path d="M95.83,557.85L97.98,561.54L93.68,561.54Z" fill="#0a62ea"/>
<path d="M107.88,554.16L110.04,557.85L105.73,557.85Z" fill="#0a62ea"/>
<path d="M120.13,551.61L122.28,555.30L117.97,555.30Z" fill="#0a62ea"/>
<path d="M131.80,548.87L133.96,552.56L129.65,552.56Z" fill="#0a62ea"/>
<path d="M144.42,544.95L146.57,548.64L142.27,548.64Z" fill="#0a62ea"/>
<path d="M154.03,543.66L156.18,547.35L151.87,547.35Z" fill="#0a62ea"/>
<path d="M174.93,537.35L177.08,541.04L172.78,541.04Z" fill="#0a62ea"/>
<path d="M197.15,529.19L199.31,532.88L195.00,532.88Z" fill="#0a62ea"/>
<path d="M218.44,517.32L220.59,521.01L216.28,521.01Z" fill="#0a62ea"/>
<path d="M221.83,515.05L223.98,518.74L219.67,518.74Z" fill="#0a62ea"/>
<path d="M231.62,504.07L233.77,507.76L229.47,507.76Z" fill="#0a62ea"/>
<path d="M240.28,495.61L242.44,499.30L238.13,499.30Z" fill="#0a62ea"/>
<path d="M240.28,495.49L242.44,499.18L238.13,499.18Z" fill="#0a62ea"/>
<path d="M230.49,498.93L232.64,502.62L228.34,502.62Z" fill="#0a62ea"/>
<path d="M228.23,499.75L230.38,503.44L226.08,503.44Z" fill="#0a62ea"/>
<path d="M220.32,505.72L222.47,509.41L218.17,509.41Z" fill="#0a62ea"/>
<path d="M215.80,510.64L217.95,514.33L213.65,514.33Z" fill="#0a62ea"/>
<path d="M204.31,519.50L206.46,523.19L202.16,523.19Z" fill="#0a62ea"/>
<path d="M192.26,526.95L194.41,530.64L190.11,530.64Z" fill="#0a62ea"/>
<path d="M180.39,532.52L182.55,536.21L178.24,536.21Z" fill="#0a62ea"/>
<path d="M168.34,536.85L170.49,540.54L166.19,540.54Z" fill="#0a62ea"/>
<path d="M163.63,538.96L165.78,542.65L161.48,542.65Z" fill="#0a62ea"/>
<path d="M156.47,541.17L158.63,544.86L154.32,544.86Z" fill="#0a62ea"/>
<path d="M144.23,544.67L146.39,548.36L142.08,548.36Z" fill="#0a62ea"/>
<path d="M124.08,550.74L126.23,554.43L121.93,554.43Z" fill="#0a62ea"/>
<path d="M110.52,553.43L112.67,557.12L108.37,557.12Z" fill="#0a62ea"/>
<path d="M84.16,560.46L86.31,564.15L82.00,564.15Z" fill="#0a62ea"/>
<path d="M53.83,602.05L53.91,596.73L53.98,590.97L54.06,580.09L54.21,574.77L54.77,571.77L55.53,570.87L56.47,569.75L57.60,568.40L58.92,567.17L60.42,565.92L61.93,564.67L63.44,563.42L65.13,562.39L66.83,561.55L68.52,560.71L70.41,559.88L72.29,559.46L74.17,559.05L76.62,558.47L81.89,557.02L95.83,554.01L107.88,550.68L120.13,546.98L131.80,544.04L144.42,539.37L154.03,538.13L174.93,530.76L197.15,521.03L218.44,504.58L221.83,501.90L231.62,487.20L240.28,469.02L240.28,468.74L230.49,475.40L228.23,478.86L220.32,492.21L215.80,499.28L204.31,511.67L192.26,519.49L180.39,526.85L168.34,531.85L163.63,533.52L156.47,536.84L144.23,539.50L124.08,545.90L110.52,549.82L84.16,556.44" fill="none" stroke="#34c184" stroke-width="1.0" stroke-linejoin="round"/>
<path d="M53.83,604.20L55.99,600.51L51.68,600.51Z" fill="#0a9e58"/>
<path d="M53.91,598.88L56.06,595.19L51.76,595.19Z" fill="#0a9e58"/>
<path d="M53.98,593.12L56.14,589.43L51.83,589.43Z" fill="#0a9e58"/>
<path d="M54.06,582.24L56.21,578.55L51.91,578.55Z" fill="#0a9e58"/>
<path d="M54.21,576.92L56.36,573.23L52.06,573.23Z" fill="#0a9e58"/>
<path d="M54.77,573.93L56.93,570.24L52.62,570.24Z" fill="#0a9e58"/>
<path d="M55.53,573.02L57.68,569.33L53.38,569.33Z" fill="#0a9e58"/>
<path d="M56.47,571.90L58.62,568.21L54.32,568.21Z" fill="#0a9e58"/>
<path d="M57.60,570.55L59.75,566.86L55.45,566.86Z" fill="#0a9e58"/>
<path d="M58.92,569.32L61.07,565.63L56.77,565.63Z" fill="#0a9e58"/>
<path d="M60.42,568.07L62.58,564.38L58.27,564.38Z" fill="#0a9e58"/>
<path d="M61.93,566.82L64.08,563.13L59.78,563.13Z" fill="#0a9e58"/>
<path d="M63.44,565.58L65.59,561.89L61.29,561.89Z" fill="#0a9e58"/>
<path d="M65.13,564.55L67.29,560.86L62.98,560.86Z" fill="#0a9e58"/>
<path d="M66.83,563.70L68.98,560.01L64.68,560.01Z" fill="#0a9e58"/>
<path d="M68.52,562.86L70.68,559.17L66.37,559.17Z" fill="#0a9e58"/>
<path d="M70.41,562.03L72.56,558.34L68.25,558.34Z" fill="#0a9e58"/>
<path d="M72.29,561.61L74.44,557.92L70.14,557.92Z" fill="#0a9e58"/>
<path d="M74.17,561.20L76.33,557.51L72.02,557.51Z" fill="#0a9e58"/>
<path d="M76.62,560.63L78.77,556.94L74.47,556.94Z" fill="#0a9e58"/>
<path d="M81.89,559.17L84.05,555.48L79.74,555.48Z" fill="#0a9e58"/>
<path d="M95.83,556.16L97.98,552.47L93.68,552.47Z" fill="#0a9e58"/>
<path d="M107.88,552.83L110.04,549.14L105.73,549.14Z" fill="#0a9e58"/>
<path d="M120.13,549.14L122.28,545.45L117.97,545.45Z" fill="#0a9e58"/>
<path d="M131.80,546.19L133.96,542.50L129.65,542.50Z" fill="#0a9e58"/>
<path d="M144.42,541.52L146.57,537.83L142.27,537.83Z" fill="#0a9e58"/>
<path d="M154.03,540.29L156.18,536.60L151.87,536.60Z" fill="#0a9e58"/>
<path d="M174.93,532.92L177.08,529.23L172.78,529.23Z" fill="#0a9e58"/>
<path d="M197.15,523.18L199.31,519.49L195.00,519.49Z" fill="#0a9e58"/>
<path d="M218.44,506.74L220.59,503.05L216.28,503.05Z" fill="#0a9e58"/>
<path d="M221.83,504.05L223.98,500.36L219.67,500.36Z" fill="#0a9e58"/>
<path d="M231.62,489.35L233.77,485.66L229.47,485.66Z" fill="#0a9e58"/>
<path d="M240.28,471.17L242.44,467.48L238.13,467.48Z" fill="#0a9e58"/>
<path d="M240.28,470.89L242.44,467.20L238.13,467.20Z" fill="#0a9e58"/>
<path d="M230.49,477.55L232.64,473.86L228.34,473.86Z" fill="#0a9e58"/>
<path d="M228.23,481.02L230.38,477.33L226.08,477.33Z" fill="#0a9e58"/>
<path d="M220.32,494.36L222.47,490.67L218.17,490.67Z" fill="#0a9e58"/>
<path d="M215.80,501.43L217.95,497.74L213.65,497.74Z" fill="#0a9e58"/>
<path d="M204.31,513.82L206.46,510.13L202.16,510.13Z" fill="#0a9e58"/>
<path d="M192.26,521.64L194.41,517.95L190.11,517.95Z" fill="#0a9e58"/>
<path d="M180.39,529.01L182.55,525.32L178.24,525.32Z" fill="#0a9e58"/>
<path d="M168.34,534.00L170.49,530.31L166.19,530.31Z" fill="#0a9e58"/>
<path d="M163.63,535.67L165.78,531.98L161.48,531.98Z" fill="#0a9e58"/>
<path d="M156.47,538.99L158.63,535.30L154.32,535.30Z" fill="#0a9e58"/>
<path d="M144.23,541.65L146.39,537.96L142.08,537.96Z" fill="#0a9e58"/>
<path d="M124.08,548.06L126.23,544.37L121.93,544.37Z" fill="#0a9e58"/>
<path d="M110.52,551.97L112.67,548.28L108.37,548.28Z" fill="#0a9e58"/>
<path d="M84.16,558.59L86.31,554.90L82.00,554.90Z" fill="#0a9e58"/>
<rect x="35.00" y="447.00" width="226.00" height="183.00" fill="none" stroke="#1a1a1a" stroke-width="1.3"/>
<path d="M53.83,630.00v-3.2M91.50,630.00v-3.2M129.17,630.00v-3.2M166.83,630.00v-3.2M204.50,630.00v-3.2M242.17,630.00v-3.2M72.67,630.00v-1.8M110.33,630.00v-1.8M148.00,630.00v-1.8M185.67,630.00v-1.8M223.33,630.00v-1.8M35.00,613.36h3.2M35.00,580.09h3.2M35.00,546.82h3.2M35.00,513.55h3.2M35.00,480.27h3.2M35.00,447.00h3.2M35.00,596.73h1.8M35.00,563.45h1.8M35.00,530.18h1.8M35.00,496.91h1.8M35.00,463.64h1.8" stroke="#1a1a1a" stroke-width="1.1" fill="none"/>
<text x="53.83" y="640.55" font-size="8.7" text-anchor="middle">0.0</text>
<text x="91.50" y="640.55" font-size="8.7" text-anchor="middle">0.2</text>
<text x="129.17" y="640.55" font-size="8.7" text-anchor="middle">0.4</text>
<text x="166.83" y="640.55" font-size="8.7" text-anchor="middle">0.6</text>
<text x="204.50" y="640.55" font-size="8.7" text-anchor="middle">0.8</text>
<text x="242.17" y="640.55" font-size="8.7" text-anchor="middle">1.0</text>
<text x="31.20" y="616.66" font-size="8.7" text-anchor="end">0</text>
<text x="31.20" y="583.39" font-size="8.7" text-anchor="end">200</text>
<text x="31.20" y="550.12" font-size="8.7" text-anchor="end">400</text>
<text x="31.20" y="516.85" font-size="8.7" text-anchor="end">600</text>
<text x="31.20" y="483.57" font-size="8.7" text-anchor="end">800</text>
<text x="31.20" y="450.30" font-size="8.7" text-anchor="end">1000</text>
<text x="148.00" y="657.00" font-size="9.6" text-anchor="middle">Relative pressure (P/P<tspan font-size="6.5" dy="2">0</tspan><tspan dy="-2">)</tspan></text>
<text transform="translate(10.20,538.50) rotate(-90)" font-size="9.6" text-anchor="middle">Quantity adsorbed (cm<tspan font-size="6.8" dy="-4.5">3</tspan><tspan dy="4.5">/g)</tspan></text>
<text x="44.30" y="470.40" font-size="17" letter-spacing="0.3">(e)</text>
<path d="M188.70,572.30H206.90" stroke="#5a5a5a" stroke-width="0.9"/>
<rect x="195.96" y="570.45" width="3.69" height="3.69" fill="#383838"/>
<text x="209.10" y="575.20" font-size="8.2">FC-850-60</text>
<path d="M188.70,582.70H206.90" stroke="#ff4747" stroke-width="0.9"/>
<circle cx="197.80" cy="582.70" r="2.15" fill="#ff2b2b"/>
<text x="209.10" y="585.60" font-size="8.2">FC-850-90</text>
<path d="M188.70,593.10H206.90" stroke="#2e8cff" stroke-width="0.9"/>
<path d="M197.80,590.95L199.95,594.64L195.65,594.64Z" fill="#0a62ea"/>
<text x="209.10" y="596.00" font-size="8.2">MC-850-90</text>
<path d="M188.70,603.30H206.90" stroke="#34c184" stroke-width="0.9"/>
<path d="M197.80,605.45L199.95,601.76L195.65,601.76Z" fill="#0a9e58"/>
<text x="209.10" y="606.20" font-size="8.2">MC-850-120</text>
<path d="M333.52,36.05L333.63,37.56L334.03,50.73L334.14,79.66L334.77,90.46L335.39,95.85L336.02,104.49L336.82,115.28L337.44,128.24L338.24,145.07L338.86,153.06L339.60,161.70L340.40,170.33L341.02,175.73L341.59,177.89L342.45,176.81L343.24,175.73L344.61,171.41L346.03,164.94L347.39,160.62L348.82,160.62L350.12,171.41L351.83,178.97L355.24,181.77L357.52,181.77L360.93,181.77L363.77,181.77L367.19,181.77L370.60,181.77L374.01,181.77L376.86,181.77L381.41,181.77L385.96,181.77L391.07,181.77L397.33,181.77L403.59,181.77L409.84,181.77L416.10,181.77L426.34,181.77L434.87,181.77L445.11,181.77L455.91,181.77L467.29,181.77L479.80,181.77L494.02,181.77L509.38,181.77L526.44,181.77" fill="none" stroke="#5a5a5a" stroke-width="1.0" stroke-linejoin="round"/>
<rect x="331.67" y="34.21" width="3.69" height="3.69" fill="#383838"/>
<rect x="331.79" y="35.72" width="3.69" height="3.69" fill="#383838"/>
<rect x="332.18" y="48.89" width="3.69" height="3.69" fill="#383838"/>
<rect x="332.30" y="77.82" width="3.69" height="3.69" fill="#383838"/>
<rect x="332.92" y="88.61" width="3.69" height="3.69" fill="#383838"/>
<rect x="333.55" y="94.01" width="3.69" height="3.69" fill="#383838"/>
<rect x="334.17" y="102.64" width="3.69" height="3.69" fill="#383838"/>
<rect x="334.97" y="113.44" width="3.69" height="3.69" fill="#383838"/>
<rect x="335.60" y="126.39" width="3.69" height="3.69" fill="#383838"/>
<rect x="336.39" y="143.23" width="3.69" height="3.69" fill="#383838"/>
<rect x="337.02" y="151.22" width="3.69" height="3.69" fill="#383838"/>
<rect x="337.76" y="159.85" width="3.69" height="3.69" fill="#383838"/>
<rect x="338.55" y="168.49" width="3.69" height="3.69" fill="#383838"/>
<rect x="339.18" y="173.88" width="3.69" height="3.69" fill="#383838"/>
<rect x="339.75" y="176.04" width="3.69" height="3.69" fill="#383838"/>
<rect x="340.60" y="174.96" width="3.69" height="3.69" fill="#383838"/>
<rect x="341.40" y="173.88" width="3.69" height="3.69" fill="#383838"/>
<rect x="342.76" y="169.57" width="3.69" height="3.69" fill="#383838"/>
<rect x="344.18" y="163.09" width="3.69" height="3.69" fill="#383838"/>
<rect x="345.55" y="158.77" width="3.69" height="3.69" fill="#383838"/>
<rect x="346.97" y="158.77" width="3.69" height="3.69" fill="#383838"/>
<rect x="348.28" y="169.57" width="3.69" height="3.69" fill="#383838"/>
<rect x="349.99" y="177.12" width="3.69" height="3.69" fill="#383838"/>
<rect x="353.40" y="179.93" width="3.69" height="3.69" fill="#383838"/>
<rect x="355.67" y="179.93" width="3.69" height="3.69" fill="#383838"/>
<rect x="359.09" y="179.93" width="3.69" height="3.69" fill="#383838"/>
<rect x="361.93" y="179.93" width="3.69" height="3.69" fill="#383838"/>
<rect x="365.34" y="179.93" width="3.69" height="3.69" fill="#383838"/>
<rect x="368.75" y="179.93" width="3.69" height="3.69" fill="#383838"/>
<rect x="372.17" y="179.93" width="3.69" height="3.69" fill="#383838"/>
<rect x="375.01" y="179.93" width="3.69" height="3.69" fill="#383838"/>
<rect x="379.56" y="179.93" width="3.69" height="3.69" fill="#383838"/>
<rect x="384.11" y="179.93" width="3.69" height="3.69" fill="#383838"/>
<rect x="389.23" y="179.93" width="3.69" height="3.69" fill="#383838"/>
<rect x="395.49" y="179.93" width="3.69" height="3.69" fill="#383838"/>
<rect x="401.74" y="179.93" width="3.69" height="3.69" fill="#383838"/>
<rect x="408.00" y="179.93" width="3.69" height="3.69" fill="#383838"/>
<rect x="414.25" y="179.93" width="3.69" height="3.69" fill="#383838"/>
<rect x="424.49" y="179.93" width="3.69" height="3.69" fill="#383838"/>
<rect x="433.02" y="179.93" width="3.69" height="3.69" fill="#383838"/>
<rect x="443.26" y="179.93" width="3.69" height="3.69" fill="#383838"/>
<rect x="454.07" y="179.93" width="3.69" height="3.69" fill="#383838"/>
<rect x="465.44" y="179.93" width="3.69" height="3.69" fill="#383838"/>
<rect x="477.95" y="179.93" width="3.69" height="3.69" fill="#383838"/>
<rect x="492.17" y="179.93" width="3.69" height="3.69" fill="#383838"/>
<rect x="507.53" y="179.93" width="3.69" height="3.69" fill="#383838"/>
<rect x="524.59" y="179.93" width="3.69" height="3.69" fill="#383838"/>
<path d="M333.52,92.61L334.03,88.30L334.94,82.90L335.39,77.07L336.02,79.66L336.82,95.85L337.44,108.81L338.24,128.24L338.86,141.19L339.60,153.06L340.40,162.78L341.02,170.33L342.45,178.43L343.24,180.05L344.61,178.97L346.03,173.57L347.39,167.42L348.82,148.74L350.12,158.46L351.83,173.57L353.54,180.05L355.24,181.34L357.52,181.34L360.93,181.34L363.77,181.34L367.19,181.34L370.60,181.34L374.01,181.34L376.86,181.34L381.41,181.34L385.96,181.34L391.07,181.34L397.33,181.34L403.59,181.34L409.84,181.34L416.10,181.34L426.34,181.34L434.87,181.34L445.11,181.34L455.91,181.34L467.29,181.34L479.80,181.34L494.02,181.34L509.38,181.34L526.44,181.34" fill="none" stroke="#ff4747" stroke-width="1.0" stroke-linejoin="round"/>
<circle cx="333.52" cy="92.61" r="2.15" fill="#ff2b2b"/>
<circle cx="334.03" cy="88.30" r="2.15" fill="#ff2b2b"/>
<circle cx="334.94" cy="82.90" r="2.15" fill="#ff2b2b"/>
<circle cx="335.39" cy="77.07" r="2.15" fill="#ff2b2b"/>
<circle cx="336.02" cy="79.66" r="2.15" fill="#ff2b2b"/>
<circle cx="336.82" cy="95.85" r="2.15" fill="#ff2b2b"/>
<circle cx="337.44" cy="108.81" r="2.15" fill="#ff2b2b"/>
<circle cx="338.24" cy="128.24" r="2.15" fill="#ff2b2b"/>
<circle cx="338.86" cy="141.19" r="2.15" fill="#ff2b2b"/>
<circle cx="339.60" cy="153.06" r="2.15" fill="#ff2b2b"/>
<circle cx="340.40" cy="162.78" r="2.15" fill="#ff2b2b"/>
<circle cx="341.02" cy="170.33" r="2.15" fill="#ff2b2b"/>
<circle cx="342.45" cy="178.43" r="2.15" fill="#ff2b2b"/>
<circle cx="343.24" cy="180.05" r="2.15" fill="#ff2b2b"/>
<circle cx="344.61" cy="178.97" r="2.15" fill="#ff2b2b"/>
<circle cx="346.03" cy="173.57" r="2.15" fill="#ff2b2b"/>
<circle cx="347.39" cy="167.42" r="2.15" fill="#ff2b2b"/>
<circle cx="348.82" cy="148.74" r="2.15" fill="#ff2b2b"/>
<circle cx="350.12" cy="158.46" r="2.15" fill="#ff2b2b"/>
<circle cx="351.83" cy="173.57" r="2.15" fill="#ff2b2b"/>
<circle cx="353.54" cy="180.05" r="2.15" fill="#ff2b2b"/>
<circle cx="355.24" cy="181.34" r="2.15" fill="#ff2b2b"/>
<circle cx="357.52" cy="181.34" r="2.15" fill="#ff2b2b"/>
<circle cx="360.93" cy="181.34" r="2.15" fill="#ff2b2b"/>
<circle cx="363.77" cy="181.34" r="2.15" fill="#ff2b2b"/>
<circle cx="367.19" cy="181.34" r="2.15" fill="#ff2b2b"/>
<circle cx="370.60" cy="181.34" r="2.15" fill="#ff2b2b"/>
<circle cx="374.01" cy="181.34" r="2.15" fill="#ff2b2b"/>
<circle cx="376.86" cy="181.34" r="2.15" fill="#ff2b2b"/>
<circle cx="381.41" cy="181.34" r="2.15" fill="#ff2b2b"/>
<circle cx="385.96" cy="181.34" r="2.15" fill="#ff2b2b"/>
<circle cx="391.07" cy="181.34" r="2.15" fill="#ff2b2b"/>
<circle cx="397.33" cy="181.34" r="2.15" fill="#ff2b2b"/>
<circle cx="403.59" cy="181.34" r="2.15" fill="#ff2b2b"/>
<circle cx="409.84" cy="181.34" r="2.15" fill="#ff2b2b"/>
<circle cx="416.10" cy="181.34" r="2.15" fill="#ff2b2b"/>
<circle cx="426.34" cy="181.34" r="2.15" fill="#ff2b2b"/>
<circle cx="434.87" cy="181.34" r="2.15" fill="#ff2b2b"/>
<circle cx="445.11" cy="181.34" r="2.15" fill="#ff2b2b"/>
<circle cx="455.91" cy="181.34" r="2.15" fill="#ff2b2b"/>
<circle cx="467.29" cy="181.34" r="2.15" fill="#ff2b2b"/>
<circle cx="479.80" cy="181.34" r="2.15" fill="#ff2b2b"/>
<circle cx="494.02" cy="181.34" r="2.15" fill="#ff2b2b"/>
<circle cx="509.38" cy="181.34" r="2.15" fill="#ff2b2b"/>
<circle cx="526.44" cy="181.34" r="2.15" fill="#ff2b2b"/>
<path d="M333.23,137.95L333.63,139.03L334.94,122.84L335.39,117.44L336.02,100.71L336.82,95.85L337.73,89.38L338.24,68.87L338.86,64.55L339.60,82.90L340.40,100.71L341.02,126.08L342.45,145.51L343.24,161.70L344.15,174.65L346.03,176.81L347.39,174.65L349.33,170.33L350.69,176.81L352.97,181.13L355.24,181.88L357.52,181.88L360.93,181.88L363.77,181.88L367.19,181.88L370.60,181.88L374.01,181.88L376.86,181.88L381.41,181.88L385.96,181.88L391.07,181.88L397.33,181.88L403.59,181.88L409.84,181.88L416.10,181.88L426.34,181.88L434.87,181.88L445.11,181.88L455.91,181.88L467.29,181.88L479.80,181.88L494.02,181.88L509.38,181.88L526.44,181.88" fill="none" stroke="#2e8cff" stroke-width="1.0" stroke-linejoin="round"/>
<path d="M333.23,135.80L335.39,139.49L331.08,139.49Z" fill="#0a62ea"/>
<path d="M333.63,136.88L335.78,140.57L331.48,140.57Z" fill="#0a62ea"/>
<path d="M334.94,120.69L337.09,124.38L332.79,124.38Z" fill="#0a62ea"/>
<path d="M335.39,115.29L337.55,118.98L333.24,118.98Z" fill="#0a62ea"/>
<path d="M336.02,98.56L338.17,102.25L333.87,102.25Z" fill="#0a62ea"/>
<path d="M336.82,93.70L338.97,97.39L334.66,97.39Z" fill="#0a62ea"/>
<path d="M337.73,87.22L339.88,90.91L335.57,90.91Z" fill="#0a62ea"/>
<path d="M338.24,66.72L340.39,70.41L336.09,70.41Z" fill="#0a62ea"/>
<path d="M338.86,62.40L341.02,66.09L336.71,66.09Z" fill="#0a62ea"/>
<path d="M339.60,80.75L341.76,84.44L337.45,84.44Z" fill="#0a62ea"/>
<path d="M340.40,98.56L342.55,102.25L338.25,102.25Z" fill="#0a62ea"/>
<path d="M341.02,123.92L343.18,127.61L338.87,127.61Z" fill="#0a62ea"/>
<path d="M342.45,143.35L344.60,147.04L340.29,147.04Z" fill="#0a62ea"/>
<path d="M343.24,159.54L345.40,163.23L341.09,163.23Z" fill="#0a62ea"/>
<path d="M344.15,172.50L346.31,176.19L342.00,176.19Z" fill="#0a62ea"/>
<path d="M346.03,174.66L348.18,178.35L343.88,178.35Z" fill="#0a62ea"/>
<path d="M347.39,172.50L349.55,176.19L345.24,176.19Z" fill="#0a62ea"/>
<path d="M349.33,168.18L351.48,171.87L347.18,171.87Z" fill="#0a62ea"/>
<path d="M350.69,174.66L352.85,178.35L348.54,178.35Z" fill="#0a62ea"/>
<path d="M352.97,178.97L355.12,182.66L350.82,182.66Z" fill="#0a62ea"/>
<path d="M355.24,179.73L357.40,183.42L353.09,183.42Z" fill="#0a62ea"/>
<path d="M357.52,179.73L359.67,183.42L355.37,183.42Z" fill="#0a62ea"/>
<path d="M360.93,179.73L363.08,183.42L358.78,183.42Z" fill="#0a62ea"/>
<path d="M363.77,179.73L365.93,183.42L361.62,183.42Z" fill="#0a62ea"/>
<path d="M367.19,179.73L369.34,183.42L365.04,183.42Z" fill="#0a62ea"/>
<path d="M370.60,179.73L372.75,183.42L368.45,183.42Z" fill="#0a62ea"/>
<path d="M374.01,179.73L376.16,183.42L371.86,183.42Z" fill="#0a62ea"/>
<path d="M376.86,179.73L379.01,183.42L374.70,183.42Z" fill="#0a62ea"/>
<path d="M381.41,179.73L383.56,183.42L379.25,183.42Z" fill="#0a62ea"/>
<path d="M385.96,179.73L388.11,183.42L383.80,183.42Z" fill="#0a62ea"/>
<path d="M391.07,179.73L393.23,183.42L388.92,183.42Z" fill="#0a62ea"/>
<path d="M397.33,179.73L399.48,183.42L395.18,183.42Z" fill="#0a62ea"/>
<path d="M403.59,179.73L405.74,183.42L401.44,183.42Z" fill="#0a62ea"/>
<path d="M409.84,179.73L412.00,183.42L407.69,183.42Z" fill="#0a62ea"/>
<path d="M416.10,179.73L418.25,183.42L413.95,183.42Z" fill="#0a62ea"/>
<path d="M426.34,179.73L428.49,183.42L424.19,183.42Z" fill="#0a62ea"/>
<path d="M434.87,179.73L437.02,183.42L432.72,183.42Z" fill="#0a62ea"/>
<path d="M445.11,179.73L447.26,183.42L442.95,183.42Z" fill="#0a62ea"/>
<path d="M455.91,179.73L458.06,183.42L453.76,183.42Z" fill="#0a62ea"/>
<path d="M467.29,179.73L469.44,183.42L465.14,183.42Z" fill="#0a62ea"/>
<path d="M479.80,179.73L481.95,183.42L477.65,183.42Z" fill="#0a62ea"/>
<path d="M494.02,179.73L496.17,183.42L491.87,183.42Z" fill="#0a62ea"/>
<path d="M509.38,179.73L511.53,183.42L507.22,183.42Z" fill="#0a62ea"/>
<path d="M526.44,179.73L528.59,183.42L524.28,183.42Z" fill="#0a62ea"/>
<path d="M333.23,104.49L333.63,106.65L334.03,102.33L334.94,92.61L335.39,85.06L336.02,79.66L336.82,85.06L337.44,95.85L338.24,112.04L338.86,128.24L339.60,139.03L340.40,149.82L341.02,166.01L342.45,174.65L343.87,175.73L346.03,176.81L347.39,173.57L349.33,169.25L350.69,178.97L352.97,181.34L355.24,181.99L357.52,181.99L360.93,181.99L363.77,181.99L367.19,181.99L370.60,181.99L374.01,181.99L376.86,181.99L381.41,181.99L385.96,181.99L391.07,181.99L397.33,181.99L403.59,181.99L409.84,181.99L416.10,181.99L426.34,181.99L434.87,181.99L445.11,181.99L455.91,181.99L467.29,181.99L479.80,181.99L494.02,181.99L509.38,181.99L526.44,181.99" fill="none" stroke="#34c184" stroke-width="1.0" stroke-linejoin="round"/>
<path d="M333.23,106.64L335.39,102.95L331.08,102.95Z" fill="#0a9e58"/>
<path d="M333.63,108.80L335.78,105.11L331.48,105.11Z" fill="#0a9e58"/>
<path d="M334.03,104.48L336.18,100.79L331.88,100.79Z" fill="#0a9e58"/>
<path d="M334.94,94.77L337.09,91.08L332.79,91.08Z" fill="#0a9e58"/>
<path d="M335.39,87.21L337.55,83.52L333.24,83.52Z" fill="#0a9e58"/>
<path d="M336.02,81.81L338.17,78.12L333.87,78.12Z" fill="#0a9e58"/>
<path d="M336.82,87.21L338.97,83.52L334.66,83.52Z" fill="#0a9e58"/>
<path d="M337.44,98.01L339.59,94.32L335.29,94.32Z" fill="#0a9e58"/>
<path d="M338.24,114.20L340.39,110.51L336.09,110.51Z" fill="#0a9e58"/>
<path d="M338.86,130.39L341.02,126.70L336.71,126.70Z" fill="#0a9e58"/>
<path d="M339.60,141.18L341.76,137.49L337.45,137.49Z" fill="#0a9e58"/>
<path d="M340.40,151.98L342.55,148.29L338.25,148.29Z" fill="#0a9e58"/>
<path d="M341.02,168.17L343.18,164.48L338.87,164.48Z" fill="#0a9e58"/>
<path d="M342.45,176.80L344.60,173.11L340.29,173.11Z" fill="#0a9e58"/>
<path d="M343.87,177.88L346.02,174.19L341.72,174.19Z" fill="#0a9e58"/>
<path d="M346.03,178.96L348.18,175.27L343.88,175.27Z" fill="#0a9e58"/>
<path d="M347.39,175.72L349.55,172.03L345.24,172.03Z" fill="#0a9e58"/>
<path d="M349.33,171.41L351.48,167.72L347.18,167.72Z" fill="#0a9e58"/>
<path d="M350.69,181.12L352.85,177.43L348.54,177.43Z" fill="#0a9e58"/>
<path d="M352.97,183.49L355.12,179.80L350.82,179.80Z" fill="#0a9e58"/>
<path d="M355.24,184.14L357.40,180.45L353.09,180.45Z" fill="#0a9e58"/>
<path d="M357.52,184.14L359.67,180.45L355.37,180.45Z" fill="#0a9e58"/>
<path d="M360.93,184.14L363.08,180.45L358.78,180.45Z" fill="#0a9e58"/>
<path d="M363.77,184.14L365.93,180.45L361.62,180.45Z" fill="#0a9e58"/>
<path d="M367.19,184.14L369.34,180.45L365.04,180.45Z" fill="#0a9e58"/>
<path d="M370.60,184.14L372.75,180.45L368.45,180.45Z" fill="#0a9e58"/>
<path d="M374.01,184.14L376.16,180.45L371.86,180.45Z" fill="#0a9e58"/>
<path d="M376.86,184.14L379.01,180.45L374.70,180.45Z" fill="#0a9e58"/>
<path d="M381.41,184.14L383.56,180.45L379.25,180.45Z" fill="#0a9e58"/>
<path d="M385.96,184.14L388.11,180.45L383.80,180.45Z" fill="#0a9e58"/>
<path d="M391.07,184.14L393.23,180.45L388.92,180.45Z" fill="#0a9e58"/>
<path d="M397.33,184.14L399.48,180.45L395.18,180.45Z" fill="#0a9e58"/>
<path d="M403.59,184.14L405.74,180.45L401.44,180.45Z" fill="#0a9e58"/>
<path d="M409.84,184.14L412.00,180.45L407.69,180.45Z" fill="#0a9e58"/>
<path d="M416.10,184.14L418.25,180.45L413.95,180.45Z" fill="#0a9e58"/>
<path d="M426.34,184.14L428.49,180.45L424.19,180.45Z" fill="#0a9e58"/>
<path d="M434.87,184.14L437.02,180.45L432.72,180.45Z" fill="#0a9e58"/>
<path d="M445.11,184.14L447.26,180.45L442.95,180.45Z" fill="#0a9e58"/>
<path d="M455.91,184.14L458.06,180.45L453.76,180.45Z" fill="#0a9e58"/>
<path d="M467.29,184.14L469.44,180.45L465.14,180.45Z" fill="#0a9e58"/>
<path d="M479.80,184.14L481.95,180.45L477.65,180.45Z" fill="#0a9e58"/>
<path d="M494.02,184.14L496.17,180.45L491.87,180.45Z" fill="#0a9e58"/>
<path d="M509.38,184.14L511.53,180.45L507.22,180.45Z" fill="#0a9e58"/>
<path d="M526.44,184.14L528.59,180.45L524.28,180.45Z" fill="#0a9e58"/>
<rect x="316.00" y="9.50" width="227.50" height="183.50" fill="none" stroke="#1a1a1a" stroke-width="1.3"/>
<path d="M330.22,193.00v-3.2M358.66,193.00v-3.2M387.09,193.00v-3.2M415.53,193.00v-3.2M443.97,193.00v-3.2M472.41,193.00v-3.2M500.84,193.00v-3.2M529.28,193.00v-3.2M344.44,193.00v-1.8M372.88,193.00v-1.8M401.31,193.00v-1.8M429.75,193.00v-1.8M458.19,193.00v-1.8M486.62,193.00v-1.8M515.06,193.00v-1.8M316.00,182.21h3.2M316.00,160.62h3.2M316.00,139.03h3.2M316.00,117.44h3.2M316.00,95.85h3.2M316.00,74.26h3.2M316.00,52.68h3.2M316.00,31.09h3.2M316.00,9.50h3.2M316.00,171.41h1.8M316.00,149.82h1.8M316.00,128.24h1.8M316.00,106.65h1.8M316.00,85.06h1.8M316.00,63.47h1.8M316.00,41.88h1.8M316.00,20.29h1.8" stroke="#1a1a1a" stroke-width="1.1" fill="none"/>
<text x="330.22" y="203.00" font-size="8.0" text-anchor="middle">0</text>
<text x="358.66" y="203.00" font-size="8.0" text-anchor="middle">5</text>
<text x="387.09" y="203.00" font-size="8.0" text-anchor="middle">10</text>
<text x="415.53" y="203.00" font-size="8.0" text-anchor="middle">15</text>
<text x="443.97" y="203.00" font-size="8.0" text-anchor="middle">20</text>
<text x="472.41" y="203.00" font-size="8.0" text-anchor="middle">25</text>
<text x="500.84" y="203.00" font-size="8.0" text-anchor="middle">30</text>
<text x="529.28" y="203.00" font-size="8.0" text-anchor="middle">35</text>
<text x="312.20" y="184.51" font-size="8.0" text-anchor="end">0.0</text>
<text x="312.20" y="162.92" font-size="8.0" text-anchor="end">0.2</text>
<text x="312.20" y="141.33" font-size="8.0" text-anchor="end">0.4</text>
<text x="312.20" y="119.74" font-size="8.0" text-anchor="end">0.6</text>
<text x="312.20" y="98.15" font-size="8.0" text-anchor="end">0.8</text>
<text x="312.20" y="76.56" font-size="8.0" text-anchor="end">1.0</text>
<text x="312.20" y="54.98" font-size="8.0" text-anchor="end">1.2</text>
<text x="312.20" y="33.39" font-size="8.0" text-anchor="end">1.4</text>
<text x="312.20" y="11.80" font-size="8.0" text-anchor="end">1.6</text>
<text x="429.75" y="219.00" font-size="9.6" text-anchor="middle">Pore width (nm)</text>
<text transform="translate(299.00,101.25) rotate(-90)" font-size="9.6" text-anchor="middle">dV/log d (cm<tspan font-size="6.8" dy="-4.5">3</tspan><tspan dy="4.5">/g)</tspan></text>
<text x="509.50" y="32.70" font-size="17" letter-spacing="0.3">(b)</text>
<path d="M470.50,121.00H488.20" stroke="#5a5a5a" stroke-width="0.9"/>
<rect x="477.50" y="119.16" width="3.69" height="3.69" fill="#383838"/>
<text x="490.90" y="123.90" font-size="8.2">CS-850-150</text>
<path d="M470.50,131.00H488.20" stroke="#ff4747" stroke-width="0.9"/>
<circle cx="479.35" cy="131.00" r="2.15" fill="#ff2b2b"/>
<text x="490.90" y="133.90" font-size="8.2">CS-850-180</text>
<path d="M470.50,141.40H488.20" stroke="#2e8cff" stroke-width="0.9"/>
<path d="M479.35,139.25L481.50,142.94L477.20,142.94Z" fill="#0a62ea"/>
<text x="490.90" y="144.30" font-size="8.2">BC-850-60</text>
<path d="M470.50,151.50H488.20" stroke="#34c184" stroke-width="0.9"/>
<path d="M479.35,153.65L481.50,149.96L477.20,149.96Z" fill="#0a9e58"/>
<text x="490.90" y="154.40" font-size="8.2">BC-850-90</text>
<path d="M333.52,278.61L333.63,298.04L334.03,329.43L334.94,328.02L335.39,331.26L334.60,341.96L336.30,344.78L337.44,358.01L338.24,364.76L339.60,370.25L341.02,374.76L341.59,373.49L343.24,366.31L346.03,347.45L347.91,330.28L349.33,337.74L350.69,350.27L352.91,355.19L355.70,361.95L359.91,368.57L363.21,373.07L366.05,376.59L369.29,376.59L372.93,375.18L376.57,378.00L380.44,381.38L386.07,383.06L391.64,381.66L397.10,382.22L403.59,383.63L409.84,384.47L418.38,387.29L425.77,389.54L434.87,385.46L444.54,385.88L455.34,388.41L467.29,386.58L479.80,389.26L494.02,392.78L509.38,392.36L526.44,391.09" fill="none" stroke="#5a5a5a" stroke-width="1.0" stroke-linejoin="round"/>
<rect x="331.67" y="276.77" width="3.69" height="3.69" fill="#383838"/>
<rect x="331.79" y="296.19" width="3.69" height="3.69" fill="#383838"/>
<rect x="332.18" y="327.59" width="3.69" height="3.69" fill="#383838"/>
<rect x="333.09" y="326.18" width="3.69" height="3.69" fill="#383838"/>
<rect x="333.55" y="329.42" width="3.69" height="3.69" fill="#383838"/>
<rect x="332.75" y="340.11" width="3.69" height="3.69" fill="#383838"/>
<rect x="334.46" y="342.93" width="3.69" height="3.69" fill="#383838"/>
<rect x="335.60" y="356.16" width="3.69" height="3.69" fill="#383838"/>
<rect x="336.39" y="362.92" width="3.69" height="3.69" fill="#383838"/>
<rect x="337.76" y="368.41" width="3.69" height="3.69" fill="#383838"/>
<rect x="339.18" y="372.91" width="3.69" height="3.69" fill="#383838"/>
<rect x="339.75" y="371.65" width="3.69" height="3.69" fill="#383838"/>
<rect x="341.40" y="364.47" width="3.69" height="3.69" fill="#383838"/>
<rect x="344.18" y="345.60" width="3.69" height="3.69" fill="#383838"/>
<rect x="346.06" y="328.43" width="3.69" height="3.69" fill="#383838"/>
<rect x="347.48" y="335.89" width="3.69" height="3.69" fill="#383838"/>
<rect x="348.85" y="348.42" width="3.69" height="3.69" fill="#383838"/>
<rect x="351.07" y="353.35" width="3.69" height="3.69" fill="#383838"/>
<rect x="353.85" y="360.10" width="3.69" height="3.69" fill="#383838"/>
<rect x="358.06" y="366.72" width="3.69" height="3.69" fill="#383838"/>
<rect x="361.36" y="371.22" width="3.69" height="3.69" fill="#383838"/>
<rect x="364.20" y="374.74" width="3.69" height="3.69" fill="#383838"/>
<rect x="367.45" y="374.74" width="3.69" height="3.69" fill="#383838"/>
<rect x="371.09" y="373.34" width="3.69" height="3.69" fill="#383838"/>
<rect x="374.73" y="376.15" width="3.69" height="3.69" fill="#383838"/>
<rect x="378.59" y="379.53" width="3.69" height="3.69" fill="#383838"/>
<rect x="384.22" y="381.22" width="3.69" height="3.69" fill="#383838"/>
<rect x="389.80" y="379.81" width="3.69" height="3.69" fill="#383838"/>
<rect x="395.26" y="380.38" width="3.69" height="3.69" fill="#383838"/>
<rect x="401.74" y="381.78" width="3.69" height="3.69" fill="#383838"/>
<rect x="408.00" y="382.63" width="3.69" height="3.69" fill="#383838"/>
<rect x="416.53" y="385.44" width="3.69" height="3.69" fill="#383838"/>
<rect x="423.92" y="387.69" width="3.69" height="3.69" fill="#383838"/>
<rect x="433.02" y="383.61" width="3.69" height="3.69" fill="#383838"/>
<rect x="442.69" y="384.03" width="3.69" height="3.69" fill="#383838"/>
<rect x="453.50" y="386.57" width="3.69" height="3.69" fill="#383838"/>
<rect x="465.44" y="384.74" width="3.69" height="3.69" fill="#383838"/>
<rect x="477.95" y="387.41" width="3.69" height="3.69" fill="#383838"/>
<rect x="492.17" y="390.93" width="3.69" height="3.69" fill="#383838"/>
<rect x="507.53" y="390.51" width="3.69" height="3.69" fill="#383838"/>
<rect x="524.59" y="389.24" width="3.69" height="3.69" fill="#383838"/>
<path d="M333.52,246.94L333.63,255.25L334.03,274.67L334.31,294.10L335.39,296.91L336.02,298.88L334.94,305.22L336.82,308.60L337.44,323.10L338.24,332.25L338.86,341.40L339.60,353.08L340.40,363.64L341.59,369.69L343.24,363.64L344.61,356.32L346.03,341.96L347.39,327.18L349.33,328.59L351.03,338.58L353.54,342.38L355.41,344.07L357.69,346.89L359.96,348.01L362.69,352.38L365.42,359.13L368.84,360.82L372.93,358.57L376.57,362.79L381.29,369.13L386.07,371.94L391.07,373.07L397.10,375.18L403.59,378.00L410.41,377.43L418.38,381.66L425.77,386.16L434.87,381.66L444.54,382.78L455.34,386.58L467.29,383.91L479.80,387.43L494.02,391.93L509.38,390.53L526.44,388.98" fill="none" stroke="#ff4747" stroke-width="1.0" stroke-linejoin="round"/>
<circle cx="333.52" cy="246.94" r="2.15" fill="#ff2b2b"/>
<circle cx="333.63" cy="255.25" r="2.15" fill="#ff2b2b"/>
<circle cx="334.03" cy="274.67" r="2.15" fill="#ff2b2b"/>
<circle cx="334.31" cy="294.10" r="2.15" fill="#ff2b2b"/>
<circle cx="335.39" cy="296.91" r="2.15" fill="#ff2b2b"/>
<circle cx="336.02" cy="298.88" r="2.15" fill="#ff2b2b"/>
<circle cx="334.94" cy="305.22" r="2.15" fill="#ff2b2b"/>
<circle cx="336.82" cy="308.60" r="2.15" fill="#ff2b2b"/>
<circle cx="337.44" cy="323.10" r="2.15" fill="#ff2b2b"/>
<circle cx="338.24" cy="332.25" r="2.15" fill="#ff2b2b"/>
<circle cx="338.86" cy="341.40" r="2.15" fill="#ff2b2b"/>
<circle cx="339.60" cy="353.08" r="2.15" fill="#ff2b2b"/>
<circle cx="340.40" cy="363.64" r="2.15" fill="#ff2b2b"/>
<circle cx="341.59" cy="369.69" r="2.15" fill="#ff2b2b"/>
<circle cx="343.24" cy="363.64" r="2.15" fill="#ff2b2b"/>
<circle cx="344.61" cy="356.32" r="2.15" fill="#ff2b2b"/>
<circle cx="346.03" cy="341.96" r="2.15" fill="#ff2b2b"/>
<circle cx="347.39" cy="327.18" r="2.15" fill="#ff2b2b"/>
<circle cx="349.33" cy="328.59" r="2.15" fill="#ff2b2b"/>
<circle cx="351.03" cy="338.58" r="2.15" fill="#ff2b2b"/>
<circle cx="353.54" cy="342.38" r="2.15" fill="#ff2b2b"/>
<circle cx="355.41" cy="344.07" r="2.15" fill="#ff2b2b"/>
<circle cx="357.69" cy="346.89" r="2.15" fill="#ff2b2b"/>
<circle cx="359.96" cy="348.01" r="2.15" fill="#ff2b2b"/>
<circle cx="362.69" cy="352.38" r="2.15" fill="#ff2b2b"/>
<circle cx="365.42" cy="359.13" r="2.15" fill="#ff2b2b"/>
<circle cx="368.84" cy="360.82" r="2.15" fill="#ff2b2b"/>
<circle cx="372.93" cy="358.57" r="2.15" fill="#ff2b2b"/>
<circle cx="376.57" cy="362.79" r="2.15" fill="#ff2b2b"/>
<circle cx="381.29" cy="369.13" r="2.15" fill="#ff2b2b"/>
<circle cx="386.07" cy="371.94" r="2.15" fill="#ff2b2b"/>
<circle cx="391.07" cy="373.07" r="2.15" fill="#ff2b2b"/>
<circle cx="397.10" cy="375.18" r="2.15" fill="#ff2b2b"/>
<circle cx="403.59" cy="378.00" r="2.15" fill="#ff2b2b"/>
<circle cx="410.41" cy="377.43" r="2.15" fill="#ff2b2b"/>
<circle cx="418.38" cy="381.66" r="2.15" fill="#ff2b2b"/>
<circle cx="425.77" cy="386.16" r="2.15" fill="#ff2b2b"/>
<circle cx="434.87" cy="381.66" r="2.15" fill="#ff2b2b"/>
<circle cx="444.54" cy="382.78" r="2.15" fill="#ff2b2b"/>
<circle cx="455.34" cy="386.58" r="2.15" fill="#ff2b2b"/>
<circle cx="467.29" cy="383.91" r="2.15" fill="#ff2b2b"/>
<circle cx="479.80" cy="387.43" r="2.15" fill="#ff2b2b"/>
<circle cx="494.02" cy="391.93" r="2.15" fill="#ff2b2b"/>
<circle cx="509.38" cy="390.53" r="2.15" fill="#ff2b2b"/>
<circle cx="526.44" cy="388.98" r="2.15" fill="#ff2b2b"/>
<rect x="316.00" y="228.50" width="227.50" height="183.00" fill="none" stroke="#1a1a1a" stroke-width="1.3"/>
<path d="M330.22,411.50v-3.2M358.66,411.50v-3.2M387.09,411.50v-3.2M415.53,411.50v-3.2M443.97,411.50v-3.2M472.41,411.50v-3.2M500.84,411.50v-3.2M529.28,411.50v-3.2M344.44,411.50v-1.8M372.88,411.50v-1.8M401.31,411.50v-1.8M429.75,411.50v-1.8M458.19,411.50v-1.8M486.62,411.50v-1.8M515.06,411.50v-1.8M316.00,397.42h3.2M316.00,369.27h3.2M316.00,341.12h3.2M316.00,312.96h3.2M316.00,284.81h3.2M316.00,256.65h3.2M316.00,228.50h3.2M316.00,383.35h1.8M316.00,355.19h1.8M316.00,327.04h1.8M316.00,298.88h1.8M316.00,270.73h1.8M316.00,242.58h1.8" stroke="#1a1a1a" stroke-width="1.1" fill="none"/>
<text x="330.22" y="421.50" font-size="8.0" text-anchor="middle">0</text>
<text x="358.66" y="421.50" font-size="8.0" text-anchor="middle">5</text>
<text x="387.09" y="421.50" font-size="8.0" text-anchor="middle">10</text>
<text x="415.53" y="421.50" font-size="8.0" text-anchor="middle">15</text>
<text x="443.97" y="421.50" font-size="8.0" text-anchor="middle">20</text>
<text x="472.41" y="421.50" font-size="8.0" text-anchor="middle">25</text>
<text x="500.84" y="421.50" font-size="8.0" text-anchor="middle">30</text>
<text x="529.28" y="421.50" font-size="8.0" text-anchor="middle">35</text>
<text x="312.20" y="399.72" font-size="8.0" text-anchor="end">0.0</text>
<text x="312.20" y="371.57" font-size="8.0" text-anchor="end">0.2</text>
<text x="312.20" y="343.42" font-size="8.0" text-anchor="end">0.4</text>
<text x="312.20" y="315.26" font-size="8.0" text-anchor="end">0.6</text>
<text x="312.20" y="287.11" font-size="8.0" text-anchor="end">0.8</text>
<text x="312.20" y="258.95" font-size="8.0" text-anchor="end">1.0</text>
<text x="312.20" y="230.80" font-size="8.0" text-anchor="end">1.2</text>
<text x="429.75" y="438.00" font-size="9.6" text-anchor="middle">Pore width (nm)</text>
<text transform="translate(299.00,320.00) rotate(-90)" font-size="9.6" text-anchor="middle">dV/log d (cm<tspan font-size="6.8" dy="-4.5">3</tspan><tspan dy="4.5">/g)</tspan></text>
<text x="509.50" y="251.10" font-size="17" letter-spacing="0.3">(d)</text>
<path d="M470.50,339.00H488.20" stroke="#5a5a5a" stroke-width="0.9"/>
<rect x="477.50" y="337.15" width="3.69" height="3.69" fill="#383838"/>
<text x="490.90" y="341.90" font-size="8.2">OC-850-90</text>
<path d="M470.50,349.80H488.20" stroke="#ff4747" stroke-width="0.9"/>
<circle cx="479.35" cy="349.80" r="2.15" fill="#ff2b2b"/>
<text x="490.90" y="352.70" font-size="8.2">OC-850-120</text>
<path d="M333.23,572.53L334.03,552.74L334.60,545.67L335.39,552.74L336.82,562.64L338.24,565.46L339.60,568.29L341.02,571.12L342.45,568.29L343.24,559.81L344.61,538.60L346.03,512.30L347.39,506.08L348.82,507.50L350.69,516.40L352.91,515.84L354.90,520.64L357.69,537.33L359.91,555.28L362.69,570.55L365.42,588.08L368.84,591.34L372.93,593.60L376.57,598.41L381.29,601.23L386.07,603.07L391.07,603.92L397.10,604.77L403.59,607.60L409.84,608.02L418.38,609.43L425.77,611.84L434.87,609.86L444.54,610.42L455.34,611.84L467.29,611.13L479.80,612.40L494.02,614.24L509.38,614.24L526.44,613.11" fill="none" stroke="#5a5a5a" stroke-width="1.0" stroke-linejoin="round"/>
<rect x="331.39" y="570.69" width="3.69" height="3.69" fill="#383838"/>
<rect x="332.18" y="550.89" width="3.69" height="3.69" fill="#383838"/>
<rect x="332.75" y="543.82" width="3.69" height="3.69" fill="#383838"/>
<rect x="333.55" y="550.89" width="3.69" height="3.69" fill="#383838"/>
<rect x="334.97" y="560.79" width="3.69" height="3.69" fill="#383838"/>
<rect x="336.39" y="563.62" width="3.69" height="3.69" fill="#383838"/>
<rect x="337.76" y="566.45" width="3.69" height="3.69" fill="#383838"/>
<rect x="339.18" y="569.27" width="3.69" height="3.69" fill="#383838"/>
<rect x="340.60" y="566.45" width="3.69" height="3.69" fill="#383838"/>
<rect x="341.40" y="557.96" width="3.69" height="3.69" fill="#383838"/>
<rect x="342.76" y="536.75" width="3.69" height="3.69" fill="#383838"/>
<rect x="344.18" y="510.46" width="3.69" height="3.69" fill="#383838"/>
<rect x="345.55" y="504.24" width="3.69" height="3.69" fill="#383838"/>
<rect x="346.97" y="505.65" width="3.69" height="3.69" fill="#383838"/>
<rect x="348.85" y="514.56" width="3.69" height="3.69" fill="#383838"/>
<rect x="351.07" y="513.99" width="3.69" height="3.69" fill="#383838"/>
<rect x="353.06" y="518.80" width="3.69" height="3.69" fill="#383838"/>
<rect x="355.84" y="535.48" width="3.69" height="3.69" fill="#383838"/>
<rect x="358.06" y="553.44" width="3.69" height="3.69" fill="#383838"/>
<rect x="360.85" y="568.71" width="3.69" height="3.69" fill="#383838"/>
<rect x="363.58" y="586.24" width="3.69" height="3.69" fill="#383838"/>
<rect x="366.99" y="589.49" width="3.69" height="3.69" fill="#383838"/>
<rect x="371.09" y="591.75" width="3.69" height="3.69" fill="#383838"/>
<rect x="374.73" y="596.56" width="3.69" height="3.69" fill="#383838"/>
<rect x="379.45" y="599.39" width="3.69" height="3.69" fill="#383838"/>
<rect x="384.22" y="601.23" width="3.69" height="3.69" fill="#383838"/>
<rect x="389.23" y="602.07" width="3.69" height="3.69" fill="#383838"/>
<rect x="395.26" y="602.92" width="3.69" height="3.69" fill="#383838"/>
<rect x="401.74" y="605.75" width="3.69" height="3.69" fill="#383838"/>
<rect x="408.00" y="606.17" width="3.69" height="3.69" fill="#383838"/>
<rect x="416.53" y="607.59" width="3.69" height="3.69" fill="#383838"/>
<rect x="423.92" y="609.99" width="3.69" height="3.69" fill="#383838"/>
<rect x="433.02" y="608.01" width="3.69" height="3.69" fill="#383838"/>
<rect x="442.69" y="608.58" width="3.69" height="3.69" fill="#383838"/>
<rect x="453.50" y="609.99" width="3.69" height="3.69" fill="#383838"/>
<rect x="465.44" y="609.29" width="3.69" height="3.69" fill="#383838"/>
<rect x="477.95" y="610.56" width="3.69" height="3.69" fill="#383838"/>
<rect x="492.17" y="612.40" width="3.69" height="3.69" fill="#383838"/>
<rect x="507.53" y="612.40" width="3.69" height="3.69" fill="#383838"/>
<rect x="524.59" y="611.26" width="3.69" height="3.69" fill="#383838"/>
<path d="M333.23,525.88L334.03,517.39L335.39,506.65L336.02,513.15L336.82,531.53L337.44,538.60L338.24,537.19L339.60,545.67L341.02,547.08L342.45,545.67L343.24,534.36L344.61,515.13L346.03,493.64L347.39,480.35L348.82,482.05L350.69,485.30L352.91,476.25L354.90,468.61L357.69,472.57L359.91,480.92L363.21,502.55L366.05,530.26L369.29,538.03L372.93,542.84L376.57,560.23L381.29,571.97L386.07,576.21L391.07,577.62L397.10,583.98L403.59,592.75L409.84,594.16L418.38,599.11L425.77,603.35L434.87,599.96L444.54,601.52L455.34,605.90L467.29,606.46L479.80,609.86L494.02,612.97L509.38,611.84L526.44,610.56" fill="none" stroke="#ff4747" stroke-width="1.0" stroke-linejoin="round"/>
<circle cx="333.23" cy="525.88" r="2.15" fill="#ff2b2b"/>
<circle cx="334.03" cy="517.39" r="2.15" fill="#ff2b2b"/>
<circle cx="335.39" cy="506.65" r="2.15" fill="#ff2b2b"/>
<circle cx="336.02" cy="513.15" r="2.15" fill="#ff2b2b"/>
<circle cx="336.82" cy="531.53" r="2.15" fill="#ff2b2b"/>
<circle cx="337.44" cy="538.60" r="2.15" fill="#ff2b2b"/>
<circle cx="338.24" cy="537.19" r="2.15" fill="#ff2b2b"/>
<circle cx="339.60" cy="545.67" r="2.15" fill="#ff2b2b"/>
<circle cx="341.02" cy="547.08" r="2.15" fill="#ff2b2b"/>
<circle cx="342.45" cy="545.67" r="2.15" fill="#ff2b2b"/>
<circle cx="343.24" cy="534.36" r="2.15" fill="#ff2b2b"/>
<circle cx="344.61" cy="515.13" r="2.15" fill="#ff2b2b"/>
<circle cx="346.03" cy="493.64" r="2.15" fill="#ff2b2b"/>
<circle cx="347.39" cy="480.35" r="2.15" fill="#ff2b2b"/>
<circle cx="348.82" cy="482.05" r="2.15" fill="#ff2b2b"/>
<circle cx="350.69" cy="485.30" r="2.15" fill="#ff2b2b"/>
<circle cx="352.91" cy="476.25" r="2.15" fill="#ff2b2b"/>
<circle cx="354.90" cy="468.61" r="2.15" fill="#ff2b2b"/>
<circle cx="357.69" cy="472.57" r="2.15" fill="#ff2b2b"/>
<circle cx="359.91" cy="480.92" r="2.15" fill="#ff2b2b"/>
<circle cx="363.21" cy="502.55" r="2.15" fill="#ff2b2b"/>
<circle cx="366.05" cy="530.26" r="2.15" fill="#ff2b2b"/>
<circle cx="369.29" cy="538.03" r="2.15" fill="#ff2b2b"/>
<circle cx="372.93" cy="542.84" r="2.15" fill="#ff2b2b"/>
<circle cx="376.57" cy="560.23" r="2.15" fill="#ff2b2b"/>
<circle cx="381.29" cy="571.97" r="2.15" fill="#ff2b2b"/>
<circle cx="386.07" cy="576.21" r="2.15" fill="#ff2b2b"/>
<circle cx="391.07" cy="577.62" r="2.15" fill="#ff2b2b"/>
<circle cx="397.10" cy="583.98" r="2.15" fill="#ff2b2b"/>
<circle cx="403.59" cy="592.75" r="2.15" fill="#ff2b2b"/>
<circle cx="409.84" cy="594.16" r="2.15" fill="#ff2b2b"/>
<circle cx="418.38" cy="599.11" r="2.15" fill="#ff2b2b"/>
<circle cx="425.77" cy="603.35" r="2.15" fill="#ff2b2b"/>
<circle cx="434.87" cy="599.96" r="2.15" fill="#ff2b2b"/>
<circle cx="444.54" cy="601.52" r="2.15" fill="#ff2b2b"/>
<circle cx="455.34" cy="605.90" r="2.15" fill="#ff2b2b"/>
<circle cx="467.29" cy="606.46" r="2.15" fill="#ff2b2b"/>
<circle cx="479.80" cy="609.86" r="2.15" fill="#ff2b2b"/>
<circle cx="494.02" cy="612.97" r="2.15" fill="#ff2b2b"/>
<circle cx="509.38" cy="611.84" r="2.15" fill="#ff2b2b"/>
<circle cx="526.44" cy="610.56" r="2.15" fill="#ff2b2b"/>
<path d="M332.66,506.65L333.23,542.84L334.03,560.94L334.60,566.88L335.39,552.74L336.02,561.22L337.44,556.98L338.86,564.05L340.40,566.88L342.45,559.81L343.81,548.50L345.23,535.91L346.66,506.65L347.91,502.55L349.56,506.65L352.12,508.06L354.90,507.50L357.69,508.06L359.91,501.70L362.69,503.25L366.05,513.72L369.29,513.72L372.93,499.15L376.57,498.31L381.29,512.73L386.07,521.92L391.07,511.74L397.10,518.66L403.59,549.20L409.84,557.55L418.38,569.14L425.77,583.28L434.87,583.42L444.54,594.31L455.34,602.93L467.29,602.08L479.80,606.46L494.02,611.13L509.38,609.86L526.44,608.59" fill="none" stroke="#2e8cff" stroke-width="1.0" stroke-linejoin="round"/>
<path d="M332.66,504.49L334.82,508.18L330.51,508.18Z" fill="#0a62ea"/>
<path d="M333.23,540.69L335.39,544.38L331.08,544.38Z" fill="#0a62ea"/>
<path d="M334.03,558.79L336.18,562.48L331.88,562.48Z" fill="#0a62ea"/>
<path d="M334.60,564.72L336.75,568.41L332.45,568.41Z" fill="#0a62ea"/>
<path d="M335.39,550.59L337.55,554.28L333.24,554.28Z" fill="#0a62ea"/>
<path d="M336.02,559.07L338.17,562.76L333.87,562.76Z" fill="#0a62ea"/>
<path d="M337.44,554.83L339.59,558.52L335.29,558.52Z" fill="#0a62ea"/>
<path d="M338.86,561.90L341.02,565.59L336.71,565.59Z" fill="#0a62ea"/>
<path d="M340.40,564.72L342.55,568.41L338.25,568.41Z" fill="#0a62ea"/>
<path d="M342.45,557.66L344.60,561.35L340.29,561.35Z" fill="#0a62ea"/>
<path d="M343.81,546.34L345.96,550.03L341.66,550.03Z" fill="#0a62ea"/>
<path d="M345.23,533.76L347.39,537.45L343.08,537.45Z" fill="#0a62ea"/>
<path d="M346.66,504.49L348.81,508.18L344.50,508.18Z" fill="#0a62ea"/>
<path d="M347.91,500.39L350.06,504.08L345.75,504.08Z" fill="#0a62ea"/>
<path d="M349.56,504.49L351.71,508.18L347.40,508.18Z" fill="#0a62ea"/>
<path d="M352.12,505.91L354.27,509.60L349.96,509.60Z" fill="#0a62ea"/>
<path d="M354.90,505.34L357.05,509.03L352.75,509.03Z" fill="#0a62ea"/>
<path d="M357.69,505.91L359.84,509.60L355.54,509.60Z" fill="#0a62ea"/>
<path d="M359.91,499.55L362.06,503.24L357.76,503.24Z" fill="#0a62ea"/>
<path d="M362.69,501.10L364.85,504.79L360.54,504.79Z" fill="#0a62ea"/>
<path d="M366.05,511.56L368.20,515.25L363.90,515.25Z" fill="#0a62ea"/>
<path d="M369.29,511.56L371.44,515.25L367.14,515.25Z" fill="#0a62ea"/>
<path d="M372.93,497.00L375.08,500.69L370.78,500.69Z" fill="#0a62ea"/>
<path d="M376.57,496.15L378.72,499.84L374.42,499.84Z" fill="#0a62ea"/>
<path d="M381.29,510.57L383.44,514.26L379.14,514.26Z" fill="#0a62ea"/>
<path d="M386.07,519.76L388.22,523.45L383.92,523.45Z" fill="#0a62ea"/>
<path d="M391.07,509.58L393.23,513.27L388.92,513.27Z" fill="#0a62ea"/>
<path d="M397.10,516.51L399.26,520.20L394.95,520.20Z" fill="#0a62ea"/>
<path d="M403.59,547.05L405.74,550.74L401.44,550.74Z" fill="#0a62ea"/>
<path d="M409.84,555.39L412.00,559.08L407.69,559.08Z" fill="#0a62ea"/>
<path d="M418.38,566.99L420.53,570.68L416.22,570.68Z" fill="#0a62ea"/>
<path d="M425.77,581.13L427.92,584.82L423.62,584.82Z" fill="#0a62ea"/>
<path d="M434.87,581.27L437.02,584.96L432.72,584.96Z" fill="#0a62ea"/>
<path d="M444.54,592.15L446.69,595.84L442.39,595.84Z" fill="#0a62ea"/>
<path d="M455.34,600.78L457.50,604.47L453.19,604.47Z" fill="#0a62ea"/>
<path d="M467.29,599.93L469.44,603.62L465.14,603.62Z" fill="#0a62ea"/>
<path d="M479.80,604.31L481.95,608.00L477.65,608.00Z" fill="#0a62ea"/>
<path d="M494.02,608.98L496.17,612.67L491.87,612.67Z" fill="#0a62ea"/>
<path d="M509.38,607.71L511.53,611.40L507.22,611.40Z" fill="#0a62ea"/>
<path d="M526.44,606.43L528.59,610.12L524.28,610.12Z" fill="#0a62ea"/>
<path d="M333.23,514.99L334.03,521.63L334.60,530.26L335.39,535.77L336.82,544.26L338.24,552.74L340.40,556.98L342.45,558.39L343.81,548.50L344.61,526.16L346.03,505.23L347.91,494.21L349.56,499.01L351.60,499.72L354.90,495.62L357.69,490.81L361.33,491.38L365.42,503.82L368.84,505.23L372.93,483.04L377.14,473.85L381.29,490.11L386.07,500.28L391.07,474.13L397.10,459.42L403.59,474.84L409.84,472.57L418.38,501.13L425.77,533.51L434.87,525.03L444.54,544.82L455.34,568.43L467.29,574.94L479.80,593.03L494.02,604.63L509.38,602.51L526.44,599.40" fill="none" stroke="#34c184" stroke-width="1.0" stroke-linejoin="round"/>
<path d="M333.23,517.14L335.39,513.45L331.08,513.45Z" fill="#0a9e58"/>
<path d="M334.03,523.79L336.18,520.10L331.88,520.10Z" fill="#0a9e58"/>
<path d="M334.60,532.41L336.75,528.72L332.45,528.72Z" fill="#0a9e58"/>
<path d="M335.39,537.92L337.55,534.23L333.24,534.23Z" fill="#0a9e58"/>
<path d="M336.82,546.41L338.97,542.72L334.66,542.72Z" fill="#0a9e58"/>
<path d="M338.24,554.89L340.39,551.20L336.09,551.20Z" fill="#0a9e58"/>
<path d="M340.40,559.13L342.55,555.44L338.25,555.44Z" fill="#0a9e58"/>
<path d="M342.45,560.55L344.60,556.86L340.29,556.86Z" fill="#0a9e58"/>
<path d="M343.81,550.65L345.96,546.96L341.66,546.96Z" fill="#0a9e58"/>
<path d="M344.61,528.31L346.76,524.62L342.46,524.62Z" fill="#0a9e58"/>
<path d="M346.03,507.39L348.18,503.70L343.88,503.70Z" fill="#0a9e58"/>
<path d="M347.91,496.36L350.06,492.67L345.75,492.67Z" fill="#0a9e58"/>
<path d="M349.56,501.16L351.71,497.47L347.40,497.47Z" fill="#0a9e58"/>
<path d="M351.60,501.87L353.76,498.18L349.45,498.18Z" fill="#0a9e58"/>
<path d="M354.90,497.77L357.05,494.08L352.75,494.08Z" fill="#0a9e58"/>
<path d="M357.69,492.96L359.84,489.27L355.54,489.27Z" fill="#0a9e58"/>
<path d="M361.33,493.53L363.48,489.84L359.18,489.84Z" fill="#0a9e58"/>
<path d="M365.42,505.97L367.58,502.28L363.27,502.28Z" fill="#0a9e58"/>
<path d="M368.84,507.39L370.99,503.70L366.68,503.70Z" fill="#0a9e58"/>
<path d="M372.93,485.19L375.08,481.50L370.78,481.50Z" fill="#0a9e58"/>
<path d="M377.14,476.00L379.29,472.31L374.99,472.31Z" fill="#0a9e58"/>
<path d="M381.29,492.26L383.44,488.57L379.14,488.57Z" fill="#0a9e58"/>
<path d="M386.07,502.44L388.22,498.75L383.92,498.75Z" fill="#0a9e58"/>
<path d="M391.07,476.28L393.23,472.59L388.92,472.59Z" fill="#0a9e58"/>
<path d="M397.10,461.58L399.26,457.89L394.95,457.89Z" fill="#0a9e58"/>
<path d="M403.59,476.99L405.74,473.30L401.44,473.30Z" fill="#0a9e58"/>
<path d="M409.84,474.73L412.00,471.04L407.69,471.04Z" fill="#0a9e58"/>
<path d="M418.38,503.29L420.53,499.60L416.22,499.60Z" fill="#0a9e58"/>
<path d="M425.77,535.66L427.92,531.97L423.62,531.97Z" fill="#0a9e58"/>
<path d="M434.87,527.18L437.02,523.49L432.72,523.49Z" fill="#0a9e58"/>
<path d="M444.54,546.97L446.69,543.28L442.39,543.28Z" fill="#0a9e58"/>
<path d="M455.34,570.58L457.50,566.89L453.19,566.89Z" fill="#0a9e58"/>
<path d="M467.29,577.09L469.44,573.40L465.14,573.40Z" fill="#0a9e58"/>
<path d="M479.80,595.19L481.95,591.50L477.65,591.50Z" fill="#0a9e58"/>
<path d="M494.02,606.78L496.17,603.09L491.87,603.09Z" fill="#0a9e58"/>
<path d="M509.38,604.66L511.53,600.97L507.22,600.97Z" fill="#0a9e58"/>
<path d="M526.44,601.55L528.59,597.86L524.28,597.86Z" fill="#0a9e58"/>
<rect x="316.00" y="446.70" width="227.50" height="183.80" fill="none" stroke="#1a1a1a" stroke-width="1.3"/>
<path d="M330.22,630.50v-3.2M358.66,630.50v-3.2M387.09,630.50v-3.2M415.53,630.50v-3.2M443.97,630.50v-3.2M472.41,630.50v-3.2M500.84,630.50v-3.2M529.28,630.50v-3.2M344.44,630.50v-1.8M372.88,630.50v-1.8M401.31,630.50v-1.8M429.75,630.50v-1.8M458.19,630.50v-1.8M486.62,630.50v-1.8M515.06,630.50v-1.8M316.00,616.36h3.2M316.00,588.08h3.2M316.00,559.81h3.2M316.00,531.53h3.2M316.00,503.25h3.2M316.00,474.98h3.2M316.00,446.70h3.2M316.00,602.22h1.8M316.00,573.95h1.8M316.00,545.67h1.8M316.00,517.39h1.8M316.00,489.12h1.8M316.00,460.84h1.8" stroke="#1a1a1a" stroke-width="1.1" fill="none"/>
<text x="330.22" y="640.50" font-size="8.0" text-anchor="middle">0</text>
<text x="358.66" y="640.50" font-size="8.0" text-anchor="middle">5</text>
<text x="387.09" y="640.50" font-size="8.0" text-anchor="middle">10</text>
<text x="415.53" y="640.50" font-size="8.0" text-anchor="middle">15</text>
<text x="443.97" y="640.50" font-size="8.0" text-anchor="middle">20</text>
<text x="472.41" y="640.50" font-size="8.0" text-anchor="middle">25</text>
<text x="500.84" y="640.50" font-size="8.0" text-anchor="middle">30</text>
<text x="529.28" y="640.50" font-size="8.0" text-anchor="middle">35</text>
<text x="312.20" y="618.66" font-size="8.0" text-anchor="end">0.0</text>
<text x="312.20" y="590.38" font-size="8.0" text-anchor="end">0.2</text>
<text x="312.20" y="562.11" font-size="8.0" text-anchor="end">0.4</text>
<text x="312.20" y="533.83" font-size="8.0" text-anchor="end">0.6</text>
<text x="312.20" y="505.55" font-size="8.0" text-anchor="end">0.8</text>
<text x="312.20" y="477.28" font-size="8.0" text-anchor="end">1.0</text>
<text x="312.20" y="449.00" font-size="8.0" text-anchor="end">1.2</text>
<text x="429.75" y="656.00" font-size="9.6" text-anchor="middle">Pore width (nm)</text>
<text transform="translate(299.00,538.60) rotate(-90)" font-size="9.6" text-anchor="middle">dV/log d (cm<tspan font-size="6.8" dy="-4.5">3</tspan><tspan dy="4.5">/g)</tspan></text>
<text x="509.50" y="470.00" font-size="17" letter-spacing="0.3">(f)</text>
<path d="M474.30,529.30H493.10" stroke="#5a5a5a" stroke-width="0.9"/>
<rect x="481.86" y="527.45" width="3.69" height="3.69" fill="#383838"/>
<text x="495.00" y="532.20" font-size="8.2">FC-850-60</text>
<path d="M474.30,539.30H493.10" stroke="#ff4747" stroke-width="0.9"/>
<circle cx="483.70" cy="539.30" r="2.15" fill="#ff2b2b"/>
<text x="495.00" y="542.20" font-size="8.2">FC-850-90</text>
<path d="M474.30,549.20H493.10" stroke="#2e8cff" stroke-width="0.9"/>
<path d="M483.70,547.05L485.85,550.74L481.55,550.74Z" fill="#0a62ea"/>
<text x="495.00" y="552.10" font-size="8.2">MC-850-90</text>
<path d="M474.30,559.20H493.10" stroke="#34c184" stroke-width="0.9"/>
<path d="M483.70,561.35L485.85,557.66L481.55,557.66Z" fill="#0a9e58"/>
<text x="495.00" y="562.10" font-size="8.2">MC-850-120</text>
</svg></body></html>
